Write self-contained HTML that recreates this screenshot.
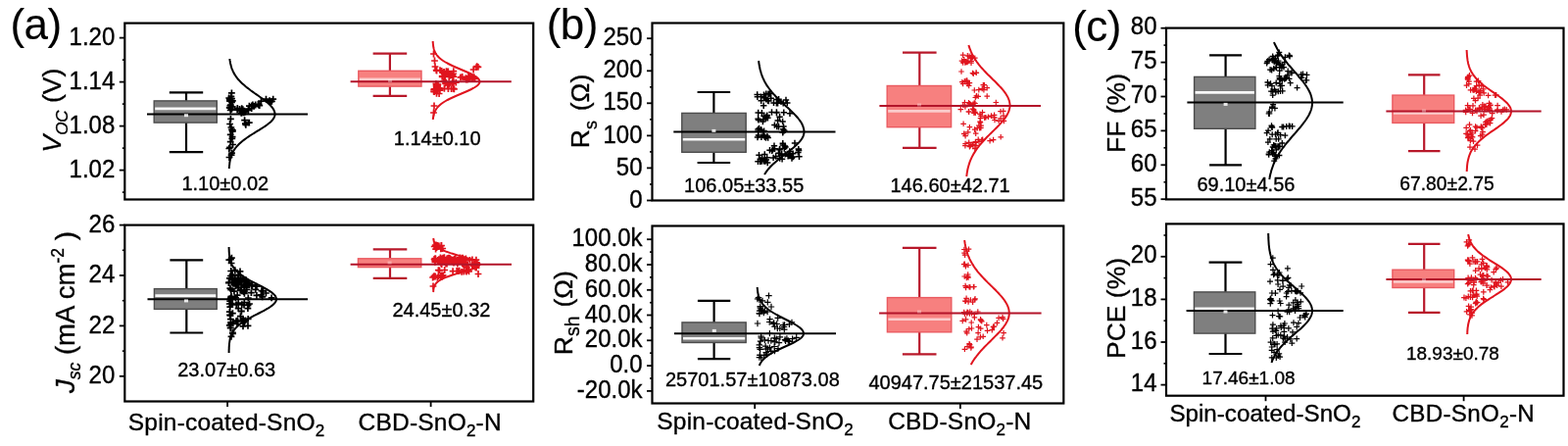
<!DOCTYPE html><html><head><meta charset="utf-8"><style>html,body{margin:0;padding:0;background:#fff;width:1600px;height:455px;overflow:hidden}svg{display:block}text{font-family:"Liberation Sans", Arial, sans-serif;fill:#000;stroke:#000;stroke-width:0.35px}.tl{font-size:24px}.st{font-size:20px}.xl{font-size:24.5px;letter-spacing:0.2px}.yt{font-size:26.5px}.pl{font-size:44px;letter-spacing:-0.6px;stroke-width:0.1px}</style></head><body>
<svg width="1600" height="455" viewBox="0 0 1600 455">
<rect width="1600" height="455" fill="#fff"/>
<line x1="190" y1="94.3" x2="190" y2="102.9" stroke="#000" stroke-width="2.2"/>
<line x1="190" y1="125.1" x2="190" y2="155.1" stroke="#000" stroke-width="2.2"/>
<line x1="172.8" y1="94.3" x2="207.2" y2="94.3" stroke="#000" stroke-width="2.2"/>
<line x1="172.8" y1="155.1" x2="207.2" y2="155.1" stroke="#000" stroke-width="2.2"/>
<rect x="157.2" y="102.9" width="64.1" height="22.2" fill="#7f7f7f" stroke="#4c4c4c" stroke-width="1.4"/>
<line x1="158.2" y1="110.9" x2="220.3" y2="110.9" stroke="#fff" stroke-width="2.6" opacity="0.95"/>
<path d="M233.1 104.4h6.8M236.5 101.0v6.8M231.8 112.4h6.8M235.2 109.0v6.8M233.4 141.5h6.8M236.8 138.1v6.8M233.0 94.9h6.8M236.4 91.5v6.8M230.4 151.5h6.8M233.8 148.1v6.8M231.2 150.3h6.8M234.6 146.9v6.8M230.6 160.5h6.8M234.0 157.1v6.8M233.9 134.2h6.8M237.3 130.8v6.8M231.5 107.8h6.8M234.9 104.4v6.8M231.6 110.1h6.8M235.0 106.7v6.8M230.8 109.8h6.8M234.2 106.4v6.8M231.2 126.5h6.8M234.6 123.1v6.8M232.7 158.1h6.8M236.1 154.7v6.8M233.8 108.8h6.8M237.2 105.4v6.8M231.1 103.2h6.8M234.5 99.8v6.8M234.1 147.5h6.8M237.5 144.1v6.8M233.1 156.1h6.8M236.5 152.7v6.8M233.7 139.6h6.8M237.1 136.2v6.8M232.5 130.0h6.8M235.9 126.6v6.8M233.0 111.3h6.8M236.4 107.9v6.8M232.0 107.1h6.8M235.4 103.7v6.8M231.8 144.7h6.8M235.2 141.3v6.8M233.2 132.2h6.8M236.6 128.8v6.8M232.0 121.4h6.8M235.4 118.0v6.8M232.5 98.3h6.8M235.9 94.9v6.8M231.8 137.4h6.8M235.2 134.0v6.8M234.0 132.8h6.8M237.4 129.4v6.8M233.6 133.5h6.8M237.0 130.1v6.8M261.4 107.7h6.8M264.8 104.3v6.8M255.7 108.4h6.8M259.1 105.0v6.8M275.3 101.1h6.8M278.7 97.7v6.8M274.0 103.3h6.8M277.4 99.9v6.8M271.7 102.6h6.8M275.1 99.2v6.8M253.3 110.6h6.8M256.7 107.2v6.8M260.0 106.3h6.8M263.4 102.9v6.8M257.3 107.0h6.8M260.7 103.6v6.8M260.8 107.4h6.8M264.2 104.0v6.8M254.5 106.9h6.8M257.9 103.5v6.8M245.5 114.8h6.8M248.9 111.4v6.8M272.6 104.0h6.8M276.0 100.6v6.8M250.0 112.5h6.8M253.4 109.1v6.8M238.7 112.2h6.8M242.1 108.8v6.8M268.1 101.2h6.8M271.5 97.8v6.8M263.1 103.2h6.8M266.5 99.8v6.8M244.4 111.6h6.8M247.8 108.2v6.8M250.1 111.1h6.8M253.5 107.7v6.8M251.0 108.1h6.8M254.4 104.7v6.8M253.4 107.9h6.8M256.8 104.5v6.8M244.2 114.2h6.8M247.6 110.8v6.8M246.9 114.0h6.8M250.3 110.6v6.8M246.2 122.6h6.8M249.6 119.2v6.8M247.0 126.1h6.8M250.4 122.7v6.8M247.1 126.0h6.8M250.5 122.6v6.8M250.2 125.2h6.8M253.6 121.8v6.8M247.4 127.4h6.8M250.8 124.0v6.8M250.9 125.1h6.8M254.3 121.7v6.8M231.0 101.7h6.8M234.4 98.3v6.8M231.7 101.4h6.8M235.1 98.0v6.8M231.4 101.7h6.8M234.8 98.3v6.8M230.3 100.0h6.8M233.7 96.6v6.8M234.0 102.9h6.8M237.4 99.5v6.8M231.3 102.8h6.8M234.7 99.4v6.8M231.3 103.2h6.8M234.7 99.8v6.8M233.1 100.6h6.8M236.5 97.2v6.8M238.9 110.5h6.8M242.3 107.1v6.8M243.3 110.7h6.8M246.7 107.3v6.8M242.8 115.3h6.8M246.2 111.9v6.8M241.1 111.4h6.8M244.5 108.0v6.8M243.2 115.4h6.8M246.6 112.0v6.8M242.0 113.0h6.8M245.4 109.6v6.8" stroke="#000" stroke-width="1.7" fill="none"/>
<path d="M234.4 60.0 L234.5 61.4 L234.8 62.8 L235.0 64.2 L235.3 65.6 L235.7 67.0 L236.1 68.4 L236.5 69.8 L237.1 71.2 L237.7 72.6 L238.4 74.0 L239.1 75.4 L240.0 76.8 L240.9 78.2 L242.0 79.6 L243.1 81.0 L244.4 82.4 L245.7 83.8 L247.2 85.2 L248.8 86.6 L250.4 88.0 L252.1 89.4 L254.0 90.8 L255.8 92.2 L257.8 93.6 L259.7 95.0 L261.7 96.4 L263.7 97.8 L265.7 99.2 L267.6 100.6 L269.5 102.0 L271.3 103.4 L273.0 104.8 L274.6 106.2 L276.0 107.6 L277.2 109.0 L278.3 110.4 L279.2 111.8 L279.8 113.2 L280.3 114.6 L280.5 116.0 L280.5 117.4 L280.1 118.8 L279.5 120.2 L278.6 121.6 L277.5 123.0 L276.1 124.4 L274.4 125.8 L272.6 127.2 L270.7 128.6 L268.6 130.0 L266.4 131.4 L264.1 132.8 L261.8 134.2 L259.6 135.6 L257.3 137.0 L255.1 138.4 L253.0 139.8 L251.0 141.2 L249.1 142.6 L247.3 144.0 L245.6 145.4 L244.1 146.8 L242.7 148.2 L241.4 149.6 L240.3 151.0 L239.3 152.4 L238.4 153.8 L237.6 155.2 L236.9 156.6 L236.4 158.0 L235.9 159.4 L235.4 160.8 L235.1 162.2 L234.8 163.6 L234.5 165.0 L234.3 166.4 L234.2 167.8 L234.0 169.2 L233.9 170.6 L233.8 172.0" stroke="#000" stroke-width="2" fill="none"/>
<line x1="150" y1="116.6" x2="314" y2="116.6" stroke="#000" stroke-width="2"/>
<rect x="188" y="116.2" width="4" height="3" fill="#fff" opacity="0.85"/>
<line x1="397.9" y1="54.6" x2="397.9" y2="72.3" stroke="#b8182a" stroke-width="2.2"/>
<line x1="397.9" y1="88.1" x2="397.9" y2="97.9" stroke="#b8182a" stroke-width="2.2"/>
<line x1="380.6" y1="54.6" x2="415.2" y2="54.6" stroke="#b8182a" stroke-width="2.2"/>
<line x1="380.6" y1="97.9" x2="415.2" y2="97.9" stroke="#b8182a" stroke-width="2.2"/>
<rect x="365.8" y="72.3" width="64.2" height="15.8" fill="#f7807f" stroke="#ea5a60" stroke-width="1.4"/>
<line x1="366.8" y1="80.8" x2="429.0" y2="80.8" stroke="#fff" stroke-width="2.6" opacity="0.6"/>
<path d="M439.1 55.0h6.8M442.5 51.6v6.8M440.1 62.0h6.8M443.5 58.6v6.8M440.6 68.0h6.8M444.0 64.6v6.8M439.1 115.0h6.8M442.5 111.6v6.8M439.6 108.0h6.8M443.0 104.6v6.8M459.3 78.1h6.8M462.7 74.7v6.8M442.2 72.1h6.8M445.6 68.7v6.8M457.0 76.7h6.8M460.4 73.3v6.8M453.8 73.7h6.8M457.2 70.3v6.8M452.6 75.7h6.8M456.0 72.3v6.8M452.1 72.6h6.8M455.5 69.2v6.8M449.3 74.3h6.8M452.7 70.9v6.8M454.8 78.5h6.8M458.2 75.1v6.8M459.1 75.3h6.8M462.5 71.9v6.8M449.6 73.4h6.8M453.0 70.0v6.8M441.8 71.7h6.8M445.2 68.3v6.8M449.9 73.7h6.8M453.3 70.3v6.8M448.3 77.7h6.8M451.7 74.3v6.8M451.1 75.4h6.8M454.5 72.0v6.8M445.6 71.7h6.8M449.0 68.3v6.8M447.3 72.5h6.8M450.7 69.1v6.8M450.8 78.5h6.8M454.2 75.1v6.8M453.9 72.8h6.8M457.3 69.4v6.8M458.1 77.1h6.8M461.5 73.7v6.8M455.1 77.8h6.8M458.5 74.4v6.8M455.6 77.0h6.8M459.0 73.6v6.8M447.8 78.4h6.8M451.2 75.0v6.8M459.4 72.6h6.8M462.8 69.2v6.8M455.4 76.5h6.8M458.8 73.1v6.8M449.9 75.2h6.8M453.3 71.8v6.8M450.4 78.0h6.8M453.8 74.6v6.8M450.6 77.3h6.8M454.0 73.9v6.8M447.8 77.7h6.8M451.2 74.3v6.8M480.1 79.3h6.8M483.5 75.9v6.8M473.5 81.2h6.8M476.9 77.8v6.8M476.6 79.4h6.8M480.0 76.0v6.8M466.5 78.8h6.8M469.9 75.4v6.8M476.1 78.2h6.8M479.5 74.8v6.8M480.3 78.6h6.8M483.7 75.2v6.8M480.3 78.7h6.8M483.7 75.3v6.8M481.2 80.3h6.8M484.6 76.9v6.8M472.2 79.6h6.8M475.6 76.2v6.8M475.1 79.9h6.8M478.5 76.5v6.8M468.3 78.3h6.8M471.7 74.9v6.8M472.3 81.2h6.8M475.7 77.8v6.8M474.6 77.8h6.8M478.0 74.4v6.8M478.5 80.4h6.8M481.9 77.0v6.8M484.5 68.3h6.8M487.9 64.9v6.8M483.3 67.7h6.8M486.7 64.3v6.8M482.7 68.6h6.8M486.1 65.2v6.8M479.7 71.0h6.8M483.1 67.6v6.8M443.3 88.2h6.8M446.7 84.8v6.8M459.0 85.2h6.8M462.4 81.8v6.8M445.5 92.2h6.8M448.9 88.8v6.8M450.0 90.4h6.8M453.4 87.0v6.8M441.8 86.5h6.8M445.2 83.1v6.8M444.7 89.9h6.8M448.1 86.5v6.8M442.8 93.0h6.8M446.2 89.6v6.8M441.6 90.5h6.8M445.0 87.1v6.8M441.5 85.3h6.8M444.9 81.9v6.8M458.2 84.2h6.8M461.6 80.8v6.8M445.0 90.1h6.8M448.4 86.7v6.8M449.2 83.0h6.8M452.6 79.6v6.8M461.9 84.2h6.8M465.3 80.8v6.8M441.9 86.3h6.8M445.3 82.9v6.8M454.0 90.7h6.8M457.4 87.3v6.8M443.5 86.2h6.8M446.9 82.8v6.8M441.7 87.4h6.8M445.1 84.0v6.8M457.2 90.6h6.8M460.6 87.2v6.8M460.0 90.8h6.8M463.4 87.4v6.8M459.2 90.3h6.8M462.6 86.9v6.8M451.0 85.0h6.8M454.4 81.6v6.8M455.0 86.0h6.8M458.4 82.6v6.8M443.2 87.4h6.8M446.6 84.0v6.8M459.5 83.9h6.8M462.9 80.5v6.8M453.4 86.8h6.8M456.8 83.4v6.8M451.9 84.1h6.8M455.3 80.7v6.8M444.9 91.8h6.8M448.3 88.4v6.8M442.7 92.6h6.8M446.1 89.2v6.8M439.2 93.3h6.8M442.6 89.9v6.8M439.9 90.8h6.8M443.3 87.4v6.8M439.3 91.3h6.8M442.7 87.9v6.8M439.7 93.7h6.8M443.1 90.3v6.8M442.1 95.4h6.8M445.5 92.0v6.8M444.7 95.5h6.8M448.1 92.1v6.8" stroke="#e0141e" stroke-width="1.7" fill="none"/>
<path d="M441.7 42.0 L441.7 43.0 L441.8 44.0 L441.9 45.0 L442.0 46.0 L442.1 47.0 L442.3 48.0 L442.5 49.0 L442.7 50.0 L443.0 51.0 L443.4 52.0 L443.8 53.0 L444.3 54.0 L444.9 55.0 L445.6 56.0 L446.4 57.0 L447.3 58.0 L448.3 59.0 L449.5 60.0 L450.8 61.0 L452.2 62.0 L453.8 63.0 L455.5 64.0 L457.4 65.0 L459.4 66.0 L461.4 67.0 L463.6 68.0 L465.9 69.0 L468.3 70.0 L470.6 71.0 L473.0 72.0 L475.3 73.0 L477.6 74.0 L479.7 75.0 L481.7 76.0 L483.6 77.0 L485.2 78.0 L486.7 79.0 L487.8 80.0 L488.7 81.0 L489.2 82.0 L489.5 83.0 L489.4 84.0 L489.0 85.0 L488.4 86.0 L487.4 87.0 L486.1 88.0 L484.6 89.0 L482.9 90.0 L481.0 91.0 L478.9 92.0 L476.7 93.0 L474.4 94.0 L472.0 95.0 L469.7 96.0 L467.3 97.0 L465.0 98.0 L462.8 99.0 L460.6 100.0 L458.5 101.0 L456.6 102.0 L454.8 103.0 L453.1 104.0 L451.6 105.0 L450.2 106.0 L449.0 107.0 L447.9 108.0 L446.9 109.0 L446.1 110.0 L445.3 111.0 L444.7 112.0 L444.1 113.0 L443.6 114.0 L443.2 115.0 L442.9 116.0 L442.6 117.0 L442.4 118.0 L442.2 119.0 L442.1 120.0 L441.9 121.0 L441.8 122.0" stroke="#e0141e" stroke-width="2" fill="none"/>
<line x1="357.6" y1="83.3" x2="521.8" y2="83.3" stroke="#b3142a" stroke-width="2"/>
<rect x="396" y="81.0" width="4" height="3" fill="#fff" opacity="0.35"/>
<line x1="190.3" y1="265.3" x2="190.3" y2="294.6" stroke="#000" stroke-width="2.2"/>
<line x1="190.3" y1="315.4" x2="190.3" y2="339.5" stroke="#000" stroke-width="2.2"/>
<line x1="173.4" y1="265.3" x2="207.2" y2="265.3" stroke="#000" stroke-width="2.2"/>
<line x1="173.4" y1="339.5" x2="207.2" y2="339.5" stroke="#000" stroke-width="2.2"/>
<rect x="157.4" y="294.6" width="63.8" height="20.8" fill="#7f7f7f" stroke="#4c4c4c" stroke-width="1.4"/>
<line x1="158.4" y1="301.6" x2="220.2" y2="301.6" stroke="#fff" stroke-width="2.6" opacity="0.95"/>
<path d="M232.0 281.5h6.8M235.4 278.1v6.8M232.7 309.6h6.8M236.1 306.2v6.8M233.0 263.1h6.8M236.4 259.7v6.8M233.8 281.6h6.8M237.2 278.2v6.8M232.3 330.5h6.8M235.7 327.1v6.8M232.3 276.5h6.8M235.7 273.1v6.8M233.1 305.5h6.8M236.5 302.1v6.8M232.7 268.5h6.8M236.1 265.1v6.8M230.0 288.6h6.8M233.4 285.2v6.8M232.9 302.3h6.8M236.3 298.9v6.8M234.0 319.7h6.8M237.4 316.3v6.8M232.2 328.8h6.8M235.6 325.4v6.8M230.9 331.9h6.8M234.3 328.5v6.8M233.7 280.1h6.8M237.1 276.7v6.8M231.4 313.2h6.8M234.8 309.8v6.8M231.4 294.2h6.8M234.8 290.8v6.8M233.8 310.5h6.8M237.2 307.1v6.8M234.0 339.3h6.8M237.4 335.9v6.8M230.9 318.1h6.8M234.3 314.7v6.8M234.2 340.4h6.8M237.6 337.0v6.8M231.2 321.4h6.8M234.6 318.0v6.8M231.3 307.1h6.8M234.7 303.7v6.8M234.4 329.7h6.8M237.8 326.3v6.8M232.0 325.7h6.8M235.4 322.3v6.8M233.0 288.0h6.8M236.4 284.6v6.8M232.1 264.7h6.8M235.5 261.3v6.8M231.6 322.0h6.8M235.0 318.6v6.8M232.6 343.4h6.8M236.0 340.0v6.8M230.2 288.2h6.8M233.6 284.8v6.8M230.4 265.1h6.8M233.8 261.7v6.8M230.8 310.0h6.8M234.2 306.6v6.8M231.7 334.3h6.8M235.1 330.9v6.8M232.0 334.6h6.8M235.4 331.2v6.8M232.7 305.0h6.8M236.1 301.6v6.8M232.6 309.5h6.8M236.0 306.1v6.8M231.8 304.4h6.8M235.2 301.0v6.8M231.0 283.9h6.8M234.4 280.5v6.8M232.3 302.7h6.8M235.7 299.3v6.8M232.3 295.6h6.8M235.7 292.2v6.8M258.5 301.3h6.8M261.9 297.9v6.8M245.2 297.6h6.8M248.6 294.2v6.8M263.0 300.9h6.8M266.4 297.5v6.8M242.4 285.2h6.8M245.8 281.8v6.8M242.9 293.1h6.8M246.3 289.7v6.8M248.1 291.4h6.8M251.5 288.0v6.8M253.3 291.5h6.8M256.7 288.1v6.8M257.4 295.4h6.8M260.8 292.0v6.8M249.3 288.5h6.8M252.7 285.1v6.8M240.6 287.7h6.8M244.0 284.3v6.8M235.5 297.2h6.8M238.9 293.8v6.8M253.6 290.7h6.8M257.0 287.3v6.8M238.8 301.1h6.8M242.2 297.7v6.8M265.0 297.0h6.8M268.4 293.6v6.8M234.3 288.5h6.8M237.7 285.1v6.8M241.8 296.3h6.8M245.2 292.9v6.8M237.9 286.4h6.8M241.3 283.0v6.8M251.2 289.8h6.8M254.6 286.4v6.8M242.8 290.9h6.8M246.2 287.5v6.8M258.6 292.2h6.8M262.0 288.8v6.8M244.8 284.1h6.8M248.2 280.7v6.8M273.7 303.8h6.8M277.1 300.4v6.8M239.1 284.4h6.8M242.5 281.0v6.8M237.7 290.8h6.8M241.1 287.4v6.8M241.9 295.8h6.8M245.3 292.4v6.8M257.9 292.2h6.8M261.3 288.8v6.8M264.3 302.8h6.8M267.7 299.4v6.8M248.2 290.0h6.8M251.6 286.6v6.8M249.9 304.0h6.8M253.3 300.6v6.8M239.7 293.7h6.8M243.1 290.3v6.8M248.4 295.4h6.8M251.8 292.0v6.8M253.0 298.7h6.8M256.4 295.3v6.8M254.0 291.1h6.8M257.4 287.7v6.8M263.6 296.6h6.8M267.0 293.2v6.8M238.0 289.4h6.8M241.4 286.0v6.8M249.0 288.7h6.8M252.4 285.3v6.8M233.6 285.1h6.8M237.0 281.7v6.8M247.4 285.4h6.8M250.8 282.0v6.8M246.0 299.4h6.8M249.4 296.0v6.8M237.1 291.8h6.8M240.5 288.4v6.8M241.7 286.5h6.8M245.1 283.1v6.8M246.0 297.1h6.8M249.4 293.7v6.8M239.2 287.6h6.8M242.6 284.2v6.8M250.7 289.4h6.8M254.1 286.0v6.8M244.7 290.7h6.8M248.1 287.3v6.8M248.3 293.2h6.8M251.7 289.8v6.8M268.0 299.0h6.8M271.4 295.6v6.8M237.1 303.8h6.8M240.5 300.4v6.8M247.1 287.1h6.8M250.5 283.7v6.8M247.1 326.8h6.8M250.5 323.4v6.8M245.6 311.1h6.8M249.0 307.7v6.8M245.9 308.6h6.8M249.3 305.2v6.8M239.3 327.9h6.8M242.7 324.5v6.8M237.8 310.8h6.8M241.2 307.4v6.8M238.6 330.5h6.8M242.0 327.1v6.8M239.8 309.1h6.8M243.2 305.7v6.8M249.7 311.5h6.8M253.1 308.1v6.8M249.8 325.3h6.8M253.2 321.9v6.8M249.6 332.3h6.8M253.0 328.9v6.8M245.8 328.5h6.8M249.2 325.1v6.8M237.6 327.7h6.8M241.0 324.3v6.8M244.8 326.4h6.8M248.2 323.0v6.8M238.7 327.2h6.8M242.1 323.8v6.8M251.1 310.0h6.8M254.5 306.6v6.8M242.0 322.6h6.8M245.4 319.2v6.8M249.5 314.6h6.8M252.9 311.2v6.8M239.8 314.7h6.8M243.2 311.3v6.8M246.3 327.3h6.8M249.7 323.9v6.8M243.0 317.7h6.8M246.4 314.3v6.8M243.0 317.3h6.8M246.4 313.9v6.8M243.4 310.6h6.8M246.8 307.2v6.8M244.6 332.8h6.8M248.0 329.4v6.8M243.3 327.2h6.8M246.7 323.8v6.8M236.5 283.5h6.8M239.9 280.1v6.8M241.9 283.3h6.8M245.3 279.9v6.8M239.8 280.8h6.8M243.2 277.4v6.8M240.9 286.2h6.8M244.3 282.8v6.8M236.4 275.7h6.8M239.8 272.3v6.8M241.8 286.4h6.8M245.2 283.0v6.8M239.8 280.3h6.8M243.2 276.9v6.8M241.6 276.9h6.8M245.0 273.5v6.8" stroke="#000" stroke-width="1.7" fill="none"/>
<path d="M233.6 252.0 L233.6 253.3 L233.7 254.7 L233.7 256.1 L233.8 257.4 L233.9 258.8 L234.0 260.1 L234.2 261.4 L234.4 262.8 L234.6 264.1 L235.0 265.5 L235.3 266.9 L235.8 268.2 L236.4 269.6 L237.1 270.9 L237.8 272.2 L238.8 273.6 L239.8 274.9 L241.1 276.3 L242.5 277.6 L244.1 279.0 L245.8 280.4 L247.7 281.7 L249.8 283.1 L252.0 284.4 L254.4 285.8 L256.9 287.1 L259.5 288.4 L262.1 289.8 L264.8 291.1 L267.4 292.5 L269.9 293.9 L272.3 295.2 L274.6 296.6 L276.6 297.9 L278.3 299.2 L279.8 300.6 L280.9 301.9 L281.6 303.3 L282.0 304.6 L281.9 306.0 L281.5 307.4 L280.7 308.7 L279.5 310.1 L278.0 311.4 L276.2 312.8 L274.2 314.1 L271.9 315.4 L269.5 316.8 L266.9 318.1 L264.3 319.5 L261.6 320.9 L259.0 322.2 L256.4 323.6 L254.0 324.9 L251.6 326.2 L249.4 327.6 L247.3 328.9 L245.5 330.3 L243.7 331.6 L242.2 333.0 L240.8 334.4 L239.6 335.7 L238.6 337.1 L237.7 338.4 L236.9 339.8 L236.3 341.1 L235.7 342.4 L235.3 343.8 L234.9 345.1 L234.6 346.5 L234.4 347.9 L234.2 349.2 L234.0 350.6 L233.9 351.9 L233.8 353.2 L233.7 354.6 L233.7 355.9 L233.6 357.3 L233.6 358.6 L233.6 360.0" stroke="#000" stroke-width="2" fill="none"/>
<line x1="150.5" y1="305.2" x2="314" y2="305.2" stroke="#000" stroke-width="2"/>
<rect x="188" y="305.4" width="4" height="3" fill="#fff" opacity="0.85"/>
<line x1="398" y1="254.3" x2="398" y2="263.8" stroke="#b8182a" stroke-width="2.2"/>
<line x1="398" y1="272.6" x2="398" y2="283.8" stroke="#b8182a" stroke-width="2.2"/>
<line x1="380.7" y1="254.3" x2="415.3" y2="254.3" stroke="#b8182a" stroke-width="2.2"/>
<line x1="380.7" y1="283.8" x2="415.3" y2="283.8" stroke="#b8182a" stroke-width="2.2"/>
<rect x="365.4" y="263.8" width="64.4" height="8.8" fill="#f7807f" stroke="#ea5a60" stroke-width="1.4"/>
<path d="M441.5 250.0h6.8M444.9 246.6v6.8M443.1 250.3h6.8M446.5 246.9v6.8M439.8 251.5h6.8M443.2 248.1v6.8M448.3 253.5h6.8M451.7 250.1v6.8M446.8 250.6h6.8M450.2 247.2v6.8M444.5 250.9h6.8M447.9 247.5v6.8M440.8 250.0h6.8M444.2 246.6v6.8M441.2 254.1h6.8M444.6 250.7v6.8M447.4 253.5h6.8M450.8 250.1v6.8M447.1 250.5h6.8M450.5 247.1v6.8M442.2 252.6h6.8M445.6 249.2v6.8M446.4 253.8h6.8M449.8 250.4v6.8M468.1 263.1h6.8M471.5 259.7v6.8M459.1 267.2h6.8M462.5 263.8v6.8M455.8 263.7h6.8M459.2 260.3v6.8M454.7 263.1h6.8M458.1 259.7v6.8M469.9 268.6h6.8M473.3 265.2v6.8M457.2 264.6h6.8M460.6 261.2v6.8M469.1 266.5h6.8M472.5 263.1v6.8M468.2 268.4h6.8M471.6 265.0v6.8M455.9 265.4h6.8M459.3 262.0v6.8M458.9 265.5h6.8M462.3 262.1v6.8M444.4 264.6h6.8M447.8 261.2v6.8M465.9 262.8h6.8M469.3 259.4v6.8M440.6 266.9h6.8M444.0 263.5v6.8M448.4 266.2h6.8M451.8 262.8v6.8M454.7 264.9h6.8M458.1 261.5v6.8M472.0 263.9h6.8M475.4 260.5v6.8M452.7 263.9h6.8M456.1 260.5v6.8M460.0 264.4h6.8M463.4 261.0v6.8M450.8 267.7h6.8M454.2 264.3v6.8M449.7 266.4h6.8M453.1 263.0v6.8M468.9 263.2h6.8M472.3 259.8v6.8M441.1 264.1h6.8M444.5 260.7v6.8M464.4 266.8h6.8M467.8 263.4v6.8M446.9 264.8h6.8M450.3 261.4v6.8M445.0 265.7h6.8M448.4 262.3v6.8M440.5 267.4h6.8M443.9 264.0v6.8M468.7 269.2h6.8M472.1 265.8v6.8M463.4 269.2h6.8M466.8 265.8v6.8M439.7 264.5h6.8M443.1 261.1v6.8M471.0 267.9h6.8M474.4 264.5v6.8M452.6 269.1h6.8M456.0 265.7v6.8M459.6 268.2h6.8M463.0 264.8v6.8M448.8 263.8h6.8M452.2 260.4v6.8M453.8 263.5h6.8M457.2 260.1v6.8M451.7 269.2h6.8M455.1 265.8v6.8M450.0 262.6h6.8M453.4 259.2v6.8M440.6 263.7h6.8M444.0 260.3v6.8M465.0 265.0h6.8M468.4 261.6v6.8M448.7 263.2h6.8M452.1 259.8v6.8M471.5 265.5h6.8M474.9 262.1v6.8M446.0 262.9h6.8M449.4 259.5v6.8M440.9 263.7h6.8M444.3 260.3v6.8M461.4 263.5h6.8M464.8 260.1v6.8M440.4 265.9h6.8M443.8 262.5v6.8M447.3 269.5h6.8M450.7 266.1v6.8M443.1 266.2h6.8M446.5 262.8v6.8M464.6 265.4h6.8M468.0 262.0v6.8M471.7 265.8h6.8M475.1 262.4v6.8M447.1 265.4h6.8M450.5 262.0v6.8M440.3 265.4h6.8M443.7 262.0v6.8M447.3 268.7h6.8M450.7 265.3v6.8M466.5 266.0h6.8M469.9 262.6v6.8M440.1 264.3h6.8M443.5 260.9v6.8M447.1 264.0h6.8M450.5 260.6v6.8M446.7 268.6h6.8M450.1 265.2v6.8M471.1 265.0h6.8M474.5 261.6v6.8M482.1 269.6h6.8M485.5 266.2v6.8M483.0 268.1h6.8M486.4 264.7v6.8M481.7 270.4h6.8M485.1 267.0v6.8M480.2 271.2h6.8M483.6 267.8v6.8M476.0 265.3h6.8M479.4 261.9v6.8M472.1 272.4h6.8M475.5 269.0v6.8M481.7 272.8h6.8M485.1 269.4v6.8M473.8 270.4h6.8M477.2 267.0v6.8M480.3 270.3h6.8M483.7 266.9v6.8M480.5 269.3h6.8M483.9 265.9v6.8M478.3 270.7h6.8M481.7 267.3v6.8M472.9 272.8h6.8M476.3 269.4v6.8M482.5 265.2h6.8M485.9 261.8v6.8M482.7 273.2h6.8M486.1 269.8v6.8M478.5 264.9h6.8M481.9 261.5v6.8M472.8 275.8h6.8M476.2 272.4v6.8M475.1 276.8h6.8M478.5 273.4v6.8M445.1 275.8h6.8M448.5 272.4v6.8M464.1 276.6h6.8M467.5 273.2v6.8M467.7 277.4h6.8M471.1 274.0v6.8M450.3 275.5h6.8M453.7 272.1v6.8M473.5 275.5h6.8M476.9 272.1v6.8M472.0 275.7h6.8M475.4 272.3v6.8M469.8 277.1h6.8M473.2 273.7v6.8M472.1 276.6h6.8M475.5 273.2v6.8M472.1 275.9h6.8M475.5 272.5v6.8M465.3 276.2h6.8M468.7 272.8v6.8M472.5 277.0h6.8M475.9 273.6v6.8M458.7 276.6h6.8M462.1 273.2v6.8M444.0 275.6h6.8M447.4 272.2v6.8M462.7 276.5h6.8M466.1 273.1v6.8M447.6 282.3h6.8M451.0 278.9v6.8M439.6 281.6h6.8M443.0 278.2v6.8M446.5 282.1h6.8M449.9 278.7v6.8M438.2 283.0h6.8M441.6 279.6v6.8M447.2 280.8h6.8M450.6 277.4v6.8M444.1 281.6h6.8M447.5 278.2v6.8M446.8 281.4h6.8M450.2 278.0v6.8M440.7 282.0h6.8M444.1 278.6v6.8M448.7 280.8h6.8M452.1 277.4v6.8M439.4 282.4h6.8M442.8 279.0v6.8M447.8 282.0h6.8M451.2 278.6v6.8M442.9 283.1h6.8M446.3 279.7v6.8M484.6 279.5h6.8M488.0 276.1v6.8M438.6 292.0h6.8M442.0 288.6v6.8" stroke="#e0141e" stroke-width="1.7" fill="none"/>
<path d="M442.2 243.0 L442.3 243.7 L442.4 244.4 L442.5 245.1 L442.7 245.8 L442.8 246.4 L443.1 247.1 L443.3 247.8 L443.7 248.5 L444.1 249.2 L444.6 249.9 L445.1 250.6 L445.8 251.2 L446.5 251.9 L447.4 252.6 L448.4 253.3 L449.6 254.0 L450.9 254.7 L452.3 255.4 L453.9 256.1 L455.6 256.8 L457.5 257.4 L459.5 258.1 L461.7 258.8 L463.9 259.5 L466.2 260.2 L468.6 260.9 L471.0 261.6 L473.4 262.2 L475.8 262.9 L478.1 263.6 L480.3 264.3 L482.3 265.0 L484.1 265.7 L485.8 266.4 L487.1 267.1 L488.2 267.8 L488.9 268.4 L489.4 269.1 L489.5 269.8 L489.3 270.5 L488.7 271.2 L487.9 271.9 L486.7 272.6 L485.3 273.2 L483.6 273.9 L481.7 274.6 L479.6 275.3 L477.4 276.0 L475.0 276.7 L472.7 277.4 L470.2 278.1 L467.8 278.8 L465.5 279.4 L463.2 280.1 L461.0 280.8 L458.9 281.5 L456.9 282.2 L455.1 282.9 L453.4 283.6 L451.8 284.2 L450.5 284.9 L449.2 285.6 L448.1 286.3 L447.1 287.0 L446.3 287.7 L445.6 288.4 L444.9 289.1 L444.4 289.8 L443.9 290.4 L443.6 291.1 L443.3 291.8 L443.0 292.5 L442.8 293.2 L442.6 293.9 L442.5 294.6 L442.4 295.2 L442.3 295.9 L442.2 296.6 L442.2 297.3 L442.1 298.0" stroke="#e0141e" stroke-width="2" fill="none"/>
<line x1="357.6" y1="269.7" x2="522" y2="269.7" stroke="#b3142a" stroke-width="2"/>
<rect x="395.6" y="266.5" width="4" height="3" fill="#fff" opacity="0.35"/>
<line x1="728.4" y1="94.0" x2="728.4" y2="115.4" stroke="#000" stroke-width="2.2"/>
<line x1="728.4" y1="155.3" x2="728.4" y2="166.0" stroke="#000" stroke-width="2.2"/>
<line x1="711.6" y1="94.0" x2="745.2" y2="94.0" stroke="#000" stroke-width="2.2"/>
<line x1="711.6" y1="166.0" x2="745.2" y2="166.0" stroke="#000" stroke-width="2.2"/>
<rect x="695.8" y="115.4" width="65.4" height="39.9" fill="#7f7f7f" stroke="#4c4c4c" stroke-width="1.4"/>
<line x1="696.8" y1="142.3" x2="760.2" y2="142.3" stroke="#fff" stroke-width="2.6" opacity="0.95"/>
<path d="M778.6 101.2h6.4M781.8 98.0v6.4M781.2 103.0h6.4M784.4 99.8v6.4M780.4 102.8h6.4M783.6 99.6v6.4M769.7 98.7h6.4M772.9 95.5v6.4M783.5 100.3h6.4M786.7 97.1v6.4M782.8 95.5h6.4M786.0 92.3v6.4M776.3 96.7h6.4M779.5 93.5v6.4M777.5 99.7h6.4M780.7 96.5v6.4M769.5 96.5h6.4M772.7 93.3v6.4M773.5 102.7h6.4M776.7 99.5v6.4M780.8 95.9h6.4M784.0 92.7v6.4M781.3 95.7h6.4M784.5 92.5v6.4M778.6 95.6h6.4M781.8 92.4v6.4M786.3 104.9h6.4M789.5 101.7v6.4M789.2 101.6h6.4M792.4 98.4v6.4M800.1 104.9h6.4M803.3 101.7v6.4M790.4 105.3h6.4M793.6 102.1v6.4M793.8 103.9h6.4M797.0 100.7v6.4M789.2 105.2h6.4M792.4 102.0v6.4M796.0 105.3h6.4M799.2 102.1v6.4M798.8 102.0h6.4M802.0 98.8v6.4M791.4 101.3h6.4M794.6 98.1v6.4M774.2 115.2h6.4M777.4 112.0v6.4M778.4 120.5h6.4M781.6 117.3v6.4M770.4 121.3h6.4M773.6 118.1v6.4M779.4 117.6h6.4M782.6 114.4v6.4M792.4 119.3h6.4M795.6 116.1v6.4M778.8 119.3h6.4M782.0 116.1v6.4M789.3 115.1h6.4M792.5 111.9v6.4M796.6 114.7h6.4M799.8 111.5v6.4M790.5 122.9h6.4M793.7 119.7v6.4M770.8 122.4h6.4M774.0 119.2v6.4M780.2 120.3h6.4M783.4 117.1v6.4M770.5 115.0h6.4M773.7 111.8v6.4M775.2 124.1h6.4M778.4 120.9v6.4M775.6 122.1h6.4M778.8 118.9v6.4M795.4 123.9h6.4M798.6 120.7v6.4M779.6 118.0h6.4M782.8 114.8v6.4M776.1 138.3h6.4M779.3 135.1v6.4M770.7 138.0h6.4M773.9 134.8v6.4M779.7 139.1h6.4M782.9 135.9v6.4M769.8 140.0h6.4M773.0 136.8v6.4M770.5 133.9h6.4M773.7 130.7v6.4M777.2 139.7h6.4M780.4 136.5v6.4M773.7 139.7h6.4M776.9 136.5v6.4M776.4 133.6h6.4M779.6 130.4v6.4M773.4 132.3h6.4M776.6 129.1v6.4M770.3 132.0h6.4M773.5 128.8v6.4M778.3 140.5h6.4M781.5 137.3v6.4M771.4 131.0h6.4M774.6 127.8v6.4M811.9 153.6h6.4M815.1 150.4v6.4M795.7 148.0h6.4M798.9 144.8v6.4M800.9 159.2h6.4M804.1 156.0v6.4M797.1 151.5h6.4M800.3 148.3v6.4M785.9 160.9h6.4M789.1 157.7v6.4M785.2 152.9h6.4M788.4 149.7v6.4M807.8 146.0h6.4M811.0 142.8v6.4M804.8 161.5h6.4M808.0 158.3v6.4M802.0 158.5h6.4M805.2 155.3v6.4M787.3 151.8h6.4M790.5 148.6v6.4M788.5 159.5h6.4M791.7 156.3v6.4M792.6 152.1h6.4M795.8 148.9v6.4M812.3 159.7h6.4M815.5 156.5v6.4M811.6 152.1h6.4M814.8 148.9v6.4M798.0 157.4h6.4M801.2 154.2v6.4M797.7 149.0h6.4M800.9 145.8v6.4M795.6 146.3h6.4M798.8 143.1v6.4M794.9 162.3h6.4M798.1 159.1v6.4M811.2 155.4h6.4M814.4 152.2v6.4M798.3 149.9h6.4M801.5 146.7v6.4M786.8 148.7h6.4M790.0 145.5v6.4M806.2 160.0h6.4M809.4 156.8v6.4M794.4 158.4h6.4M797.6 155.2v6.4M806.0 156.7h6.4M809.2 153.5v6.4M802.9 157.9h6.4M806.1 154.7v6.4M794.5 156.9h6.4M797.7 153.7v6.4M792.2 152.7h6.4M795.4 149.5v6.4M805.9 156.6h6.4M809.1 153.4v6.4M792.5 161.5h6.4M795.7 158.3v6.4M802.5 154.5h6.4M805.7 151.3v6.4M784.6 153.9h6.4M787.8 150.7v6.4M791.3 156.3h6.4M794.5 153.1v6.4M773.9 164.5h6.4M777.1 161.3v6.4M776.1 164.3h6.4M779.3 161.1v6.4M772.5 162.6h6.4M775.7 159.4v6.4M777.2 164.6h6.4M780.4 161.4v6.4M772.5 164.8h6.4M775.7 161.6v6.4M778.7 163.1h6.4M781.9 159.9v6.4M780.0 166.0h6.4M783.2 162.8v6.4M774.5 161.3h6.4M777.7 158.1v6.4M770.3 164.7h6.4M773.5 161.5v6.4M779.5 160.7h6.4M782.7 157.5v6.4M776.6 163.4h6.4M779.8 160.2v6.4M777.1 157.4h6.4M780.3 154.2v6.4M797.1 133.3h6.4M800.3 130.1v6.4M796.0 131.7h6.4M799.2 128.5v6.4M795.5 135.2h6.4M798.7 132.0v6.4M795.7 134.7h6.4M798.9 131.5v6.4M789.6 129.1h6.4M792.8 125.9v6.4M780.5 140.5h6.4M783.7 137.3v6.4M791.4 129.3h6.4M794.6 126.1v6.4M773.3 98.8h6.4M776.5 95.6v6.4M776.0 107.7h6.4M779.2 104.5v6.4M787.2 127.6h6.4M790.4 124.4v6.4M796.3 128.9h6.4M799.5 125.7v6.4M771.3 158.2h6.4M774.5 155.0v6.4M784.3 114.5h6.4M787.5 111.3v6.4M782.3 153.2h6.4M785.5 150.0v6.4M775.4 137.9h6.4M778.6 134.7v6.4M802.8 115.8h6.4M806.0 112.6v6.4M777.7 164.5h6.4M780.9 161.3v6.4M776.3 118.5h6.4M779.5 115.3v6.4M789.2 114.5h6.4M792.4 111.3v6.4" stroke="#000" stroke-width="1.5" fill="none"/>
<path d="M774.1 62.0 L774.3 63.5 L774.5 64.9 L774.7 66.3 L775.0 67.8 L775.3 69.2 L775.6 70.7 L776.0 72.2 L776.4 73.6 L776.8 75.0 L777.3 76.5 L777.8 78.0 L778.4 79.4 L779.1 80.8 L779.8 82.3 L780.5 83.8 L781.4 85.2 L782.2 86.7 L783.2 88.1 L784.2 89.5 L785.3 91.0 L786.4 92.5 L787.6 93.9 L788.9 95.3 L790.2 96.8 L791.5 98.2 L793.0 99.7 L794.4 101.2 L795.9 102.6 L797.4 104.0 L799.0 105.5 L800.6 107.0 L802.1 108.4 L803.7 109.8 L805.3 111.3 L806.8 112.8 L808.3 114.2 L809.8 115.7 L811.2 117.1 L812.5 118.5 L813.8 120.0 L815.0 121.5 L816.1 122.9 L817.1 124.3 L818.0 125.8 L818.7 127.2 L819.3 128.7 L819.8 130.2 L820.2 131.6 L820.4 133.1 L820.5 134.5 L820.4 135.9 L820.1 137.4 L819.6 138.8 L819.0 140.3 L818.1 141.8 L817.1 143.2 L815.9 144.7 L814.5 146.1 L813.1 147.6 L811.5 149.0 L809.8 150.4 L808.1 151.9 L806.3 153.3 L804.4 154.8 L802.5 156.2 L800.6 157.7 L798.8 159.2 L796.9 160.6 L795.1 162.1 L793.4 163.5 L791.7 164.9 L790.0 166.4 L788.5 167.8 L787.0 169.3 L785.6 170.8 L784.3 172.2 L783.1 173.7 L782.0 175.1 L781.0 176.6 L780.0 178.0" stroke="#000" stroke-width="2" fill="none"/>
<line x1="687.3" y1="134.6" x2="852.5" y2="134.6" stroke="#000" stroke-width="2"/>
<rect x="726.4" y="131.9" width="4" height="3" fill="#fff" opacity="0.85"/>
<line x1="938.3" y1="53.7" x2="938.3" y2="87.5" stroke="#b8182a" stroke-width="2.2"/>
<line x1="938.3" y1="129.7" x2="938.3" y2="150.8" stroke="#b8182a" stroke-width="2.2"/>
<line x1="921.0" y1="53.7" x2="955.6" y2="53.7" stroke="#b8182a" stroke-width="2.2"/>
<line x1="921.0" y1="150.8" x2="955.6" y2="150.8" stroke="#b8182a" stroke-width="2.2"/>
<rect x="905.2" y="87.5" width="65.4" height="42.2" fill="#f7807f" stroke="#ea5a60" stroke-width="1.4"/>
<line x1="906.2" y1="113.4" x2="969.6" y2="113.4" stroke="#fff" stroke-width="2.6" opacity="0.6"/>
<path d="M988.2 64.2h5.6M991.0 61.4v5.6M984.5 56.9h5.6M987.3 54.1v5.6M978.7 62.1h5.6M981.5 59.3v5.6M984.3 63.4h5.6M987.1 60.6v5.6M983.2 63.5h5.6M986.0 60.7v5.6M982.0 63.9h5.6M984.8 61.1v5.6M987.5 58.9h5.6M990.3 56.1v5.6M985.2 62.4h5.6M988.0 59.6v5.6M981.0 60.7h5.6M983.8 57.9v5.6M988.4 57.0h5.6M991.2 54.2v5.6M988.3 62.4h5.6M991.1 59.6v5.6M988.8 57.9h5.6M991.6 55.1v5.6M979.8 63.9h5.6M982.6 61.1v5.6M988.4 59.3h5.6M991.2 56.5v5.6M979.8 56.1h5.6M982.6 53.3v5.6M986.3 57.3h5.6M989.1 54.5v5.6M978.2 73.0h5.6M981.0 70.2v5.6M993.5 74.3h5.6M996.3 71.5v5.6M989.7 74.5h5.6M992.5 71.7v5.6M990.5 75.3h5.6M993.3 72.5v5.6M993.2 74.0h5.6M996.0 71.2v5.6M984.5 85.7h5.6M987.3 82.9v5.6M985.9 87.4h5.6M988.7 84.6v5.6M979.0 83.7h5.6M981.8 80.9v5.6M984.1 83.3h5.6M986.9 80.5v5.6M984.0 82.0h5.6M986.8 79.2v5.6M986.6 84.7h5.6M989.4 81.9v5.6M979.8 85.5h5.6M982.6 82.7v5.6M981.5 82.7h5.6M984.3 79.9v5.6M983.1 82.3h5.6M985.9 79.5v5.6M993.6 97.8h5.6M996.4 95.0v5.6M1000.5 86.7h5.6M1003.3 83.9v5.6M1001.6 86.7h5.6M1004.4 83.9v5.6M995.4 98.3h5.6M998.2 95.5v5.6M999.4 90.5h5.6M1002.2 87.7v5.6M996.0 91.6h5.6M998.8 88.8v5.6M992.5 99.5h5.6M995.3 96.7v5.6M991.5 92.0h5.6M994.3 89.2v5.6M1001.1 91.7h5.6M1003.9 88.9v5.6M1004.4 89.7h5.6M1007.2 86.9v5.6M1004.4 98.1h5.6M1007.2 95.3v5.6M990.1 106.3h5.6M992.9 103.5v5.6M986.3 106.2h5.6M989.1 103.4v5.6M992.2 105.5h5.6M995.0 102.7v5.6M986.7 105.9h5.6M989.5 103.1v5.6M985.7 104.7h5.6M988.5 101.9v5.6M991.4 105.0h5.6M994.2 102.2v5.6M987.0 106.1h5.6M989.8 103.3v5.6M981.6 104.5h5.6M984.4 101.7v5.6M982.1 108.9h5.6M984.9 106.1v5.6M985.9 114.2h5.6M988.7 111.4v5.6M985.6 113.8h5.6M988.4 111.0v5.6M997.2 116.4h5.6M1000.0 113.6v5.6M991.8 114.0h5.6M994.6 111.2v5.6M989.7 111.2h5.6M992.5 108.4v5.6M1003.1 119.8h5.6M1005.9 117.0v5.6M991.0 112.2h5.6M993.8 109.4v5.6M991.1 115.3h5.6M993.9 112.5v5.6M1008.7 118.1h5.6M1011.5 115.3v5.6M990.3 111.5h5.6M993.1 108.7v5.6M1001.9 120.1h5.6M1004.7 117.3v5.6M992.5 115.2h5.6M995.3 112.4v5.6M977.5 111.6h5.6M980.3 108.8v5.6M998.2 118.3h5.6M1001.0 115.5v5.6M1005.6 119.2h5.6M1008.4 116.4v5.6M979.9 107.3h5.6M982.7 104.5v5.6M999.7 114.6h5.6M1002.5 111.8v5.6M1018.2 113.7h5.6M1021.0 110.9v5.6M1012.0 120.2h5.6M1014.8 117.4v5.6M1016.3 123.3h5.6M1019.1 120.5v5.6M1018.3 120.9h5.6M1021.1 118.1v5.6M1012.2 122.5h5.6M1015.0 119.7v5.6M1011.7 119.9h5.6M1014.5 117.1v5.6M1021.6 123.4h5.6M1024.4 120.6v5.6M996.7 130.7h5.6M999.5 127.9v5.6M992.9 136.2h5.6M995.7 133.4v5.6M982.3 138.6h5.6M985.1 135.8v5.6M997.0 130.6h5.6M999.8 127.8v5.6M994.5 130.7h5.6M997.3 127.9v5.6M985.0 134.9h5.6M987.8 132.1v5.6M980.9 136.3h5.6M983.7 133.5v5.6M998.3 128.1h5.6M1001.1 125.3v5.6M997.6 124.8h5.6M1000.4 122.0v5.6M996.0 128.0h5.6M998.8 125.2v5.6M998.1 130.4h5.6M1000.9 127.6v5.6M997.2 124.0h5.6M1000.0 121.2v5.6M981.3 136.6h5.6M984.1 133.8v5.6M991.8 132.1h5.6M994.6 129.3v5.6M980.3 126.3h5.6M983.1 123.5v5.6M990.2 148.4h5.6M993.0 145.6v5.6M1010.8 142.6h5.6M1013.6 139.8v5.6M989.2 147.4h5.6M992.0 144.6v5.6M982.1 148.6h5.6M984.9 145.8v5.6M995.4 142.4h5.6M998.2 139.6v5.6M996.2 144.4h5.6M999.0 141.6v5.6M982.3 146.6h5.6M985.1 143.8v5.6M999.9 142.4h5.6M1002.7 139.6v5.6M986.6 149.6h5.6M989.4 146.8v5.6M992.7 144.5h5.6M995.5 141.7v5.6M987.4 148.8h5.6M990.2 146.0v5.6M999.0 142.9h5.6M1001.8 140.1v5.6M992.5 145.3h5.6M995.3 142.5v5.6M1018.4 139.8h5.6M1021.2 137.0v5.6M1007.3 143.6h5.6M1010.1 140.8v5.6M993.3 148.3h5.6M996.1 145.5v5.6M997.7 120.7h5.6M1000.5 117.9v5.6M992.0 59.2h5.6M994.8 56.4v5.6M986.6 129.7h5.6M989.4 126.9v5.6M989.7 58.4h5.6M992.5 55.6v5.6M1021.0 113.4h5.6M1023.8 110.6v5.6M1013.5 104.5h5.6M1016.3 101.7v5.6M985.9 145.4h5.6M988.7 142.6v5.6M1021.2 118.1h5.6M1024.0 115.3v5.6M992.0 151.6h5.6M994.8 148.8v5.6M1011.8 117.4h5.6M1014.6 114.6v5.6" stroke="#e0141e" stroke-width="1.2" fill="none"/>
<path d="M988.4 46.0 L988.9 47.7 L989.5 49.4 L990.1 51.0 L990.8 52.7 L991.6 54.4 L992.4 56.0 L993.3 57.7 L994.3 59.4 L995.4 61.1 L996.5 62.8 L997.7 64.4 L999.0 66.1 L1000.4 67.8 L1001.9 69.5 L1003.4 71.1 L1004.9 72.8 L1006.5 74.5 L1008.2 76.2 L1009.9 77.8 L1011.6 79.5 L1013.3 81.2 L1015.0 82.8 L1016.7 84.5 L1018.3 86.2 L1019.9 87.9 L1021.5 89.5 L1022.9 91.2 L1024.3 92.9 L1025.6 94.6 L1026.7 96.2 L1027.7 97.9 L1028.6 99.6 L1029.3 101.3 L1029.9 103.0 L1030.2 104.6 L1030.5 106.3 L1030.5 108.0 L1030.4 109.7 L1030.0 111.3 L1029.6 113.0 L1028.9 114.7 L1028.1 116.3 L1027.2 118.0 L1026.1 119.7 L1024.9 121.4 L1023.5 123.0 L1022.1 124.7 L1020.6 126.4 L1019.0 128.1 L1017.4 129.8 L1015.7 131.4 L1014.0 133.1 L1012.3 134.8 L1010.6 136.4 L1008.9 138.1 L1007.2 139.8 L1005.6 141.5 L1004.0 143.2 L1002.5 144.8 L1001.0 146.5 L999.6 148.2 L998.3 149.8 L997.0 151.5 L995.9 153.2 L994.8 154.9 L993.7 156.6 L992.8 158.2 L991.9 159.9 L991.1 161.6 L990.4 163.2 L989.7 164.9 L989.1 166.6 L988.6 168.3 L988.1 169.9 L987.7 171.6 L987.3 173.3 L987.0 175.0 L986.7 176.7 L986.5 178.3 L986.2 180.0" stroke="#e0141e" stroke-width="2" fill="none"/>
<line x1="897.4" y1="108.1" x2="1062" y2="108.1" stroke="#b3142a" stroke-width="2"/>
<rect x="936" y="105.5" width="4" height="3" fill="#fff" opacity="0.35"/>
<line x1="728.6" y1="306.9" x2="728.6" y2="328.9" stroke="#000" stroke-width="2.2"/>
<line x1="728.6" y1="349.5" x2="728.6" y2="366.2" stroke="#000" stroke-width="2.2"/>
<line x1="711.9" y1="306.9" x2="745.3" y2="306.9" stroke="#000" stroke-width="2.2"/>
<line x1="711.9" y1="366.2" x2="745.3" y2="366.2" stroke="#000" stroke-width="2.2"/>
<rect x="696.0" y="328.9" width="65.2" height="20.6" fill="#7f7f7f" stroke="#4c4c4c" stroke-width="1.4"/>
<line x1="697.0" y1="345.3" x2="760.2" y2="345.3" stroke="#fff" stroke-width="2.6" opacity="0.95"/>
<path d="M769.8 305.0h6.4M773.0 301.8v6.4M774.2 317.6h6.4M777.4 314.4v6.4M777.2 317.0h6.4M780.4 313.8v6.4M776.1 319.1h6.4M779.3 315.9v6.4M771.8 320.1h6.4M775.0 316.9v6.4M771.6 319.5h6.4M774.8 316.3v6.4M771.9 317.1h6.4M775.1 313.9v6.4M783.8 313.0h6.4M787.0 309.8v6.4M769.8 330.0h6.4M773.0 326.8v6.4M792.6 335.1h6.4M795.8 331.9v6.4M786.0 330.3h6.4M789.2 327.1v6.4M797.1 336.1h6.4M800.3 332.9v6.4M796.0 331.7h6.4M799.2 328.5v6.4M804.8 328.9h6.4M808.0 325.7v6.4M802.2 330.8h6.4M805.4 327.6v6.4M786.5 329.4h6.4M789.7 326.2v6.4M790.1 335.0h6.4M793.3 331.8v6.4M787.3 333.2h6.4M790.5 330.0v6.4M797.4 331.5h6.4M800.6 328.3v6.4M792.7 343.9h6.4M795.9 340.7v6.4M773.6 344.9h6.4M776.8 341.7v6.4M797.8 346.5h6.4M801.0 343.3v6.4M783.6 347.6h6.4M786.8 344.4v6.4M789.0 345.6h6.4M792.2 342.4v6.4M802.3 348.4h6.4M805.5 345.2v6.4M780.8 347.5h6.4M784.0 344.3v6.4M791.8 349.6h6.4M795.0 346.4v6.4M799.7 345.5h6.4M802.9 342.3v6.4M809.5 344.3h6.4M812.7 341.1v6.4M787.6 348.8h6.4M790.8 345.6v6.4M777.2 346.9h6.4M780.4 343.7v6.4M772.8 348.2h6.4M776.0 345.0v6.4M801.1 347.5h6.4M804.3 344.3v6.4M805.4 345.7h6.4M808.6 342.5v6.4M798.4 347.7h6.4M801.6 344.5v6.4M782.3 354.7h6.4M785.5 351.5v6.4M787.3 358.1h6.4M790.5 354.9v6.4M780.3 356.1h6.4M783.5 352.9v6.4M772.5 356.4h6.4M775.7 353.2v6.4M783.6 358.5h6.4M786.8 355.3v6.4M786.9 353.5h6.4M790.1 350.3v6.4M778.6 356.2h6.4M781.8 353.0v6.4M771.7 354.7h6.4M774.9 351.5v6.4M772.3 362.0h6.4M775.5 358.8v6.4M771.7 364.6h6.4M774.9 361.4v6.4M772.1 362.5h6.4M775.3 359.3v6.4M773.6 365.0h6.4M776.8 361.8v6.4M789.5 330.5h6.4M792.7 327.3v6.4M777.9 353.2h6.4M781.1 350.0v6.4M790.5 324.4h6.4M793.7 321.2v6.4M772.5 312.6h6.4M775.7 309.4v6.4M773.4 315.8h6.4M776.6 312.6v6.4M782.2 340.1h6.4M785.4 336.9v6.4M782.0 328.5h6.4M785.2 325.3v6.4M776.5 362.7h6.4M779.7 359.5v6.4M796.9 333.5h6.4M800.1 330.3v6.4M779.4 361.2h6.4M782.6 358.0v6.4M787.1 344.8h6.4M790.3 341.6v6.4M773.4 343.1h6.4M776.6 339.9v6.4M772.6 314.2h6.4M775.8 311.0v6.4M770.8 303.6h6.4M774.0 300.4v6.4M774.8 306.9h6.4M778.0 303.7v6.4M778.5 359.5h6.4M781.7 356.3v6.4M774.6 317.2h6.4M777.8 314.0v6.4M780.1 308.4h6.4M783.3 305.2v6.4M782.4 325.7h6.4M785.6 322.5v6.4M771.9 305.8h6.4M775.1 302.6v6.4M779.9 318.0h6.4M783.1 314.8v6.4M781.3 301.6h6.4M784.5 298.4v6.4M771.6 351.9h6.4M774.8 348.7v6.4M790.8 355.5h6.4M794.0 352.3v6.4" stroke="#000" stroke-width="1.2" fill="none"/>
<path d="M772.7 293.0 L772.8 294.0 L772.9 295.0 L773.0 296.0 L773.1 297.0 L773.2 298.0 L773.4 299.0 L773.6 300.0 L773.8 301.0 L774.0 302.0 L774.3 303.0 L774.7 304.0 L775.1 305.0 L775.5 306.0 L776.0 307.0 L776.6 308.0 L777.3 309.0 L778.0 310.0 L778.8 311.0 L779.8 312.0 L780.8 313.0 L781.9 314.0 L783.1 315.0 L784.4 316.0 L785.8 317.0 L787.3 318.0 L788.9 319.0 L790.6 320.0 L792.3 321.0 L794.2 322.0 L796.0 323.0 L798.0 324.0 L799.9 325.0 L801.9 326.0 L803.9 327.0 L805.8 328.0 L807.7 329.0 L809.5 330.0 L811.3 331.0 L812.9 332.0 L814.4 333.0 L815.8 334.0 L817.0 335.0 L818.0 336.0 L818.8 337.0 L819.4 338.0 L819.8 339.0 L820.0 340.0 L819.9 341.0 L819.6 342.0 L819.0 343.0 L818.2 344.0 L817.1 345.0 L815.8 346.0 L814.3 347.0 L812.6 348.0 L810.7 349.0 L808.8 350.0 L806.7 351.0 L804.6 352.0 L802.4 353.0 L800.2 354.0 L798.0 355.0 L795.9 356.0 L793.8 357.0 L791.8 358.0 L789.9 359.0 L788.1 360.0 L786.4 361.0 L784.8 362.0 L783.3 363.0 L782.0 364.0 L780.7 365.0 L779.6 366.0 L778.6 367.0 L777.8 368.0 L777.0 369.0 L776.3 370.0 L775.7 371.0 L775.2 372.0 L774.7 373.0" stroke="#000" stroke-width="2" fill="none"/>
<line x1="688" y1="340.3" x2="853" y2="340.3" stroke="#000" stroke-width="2"/>
<rect x="726.8" y="335.9" width="4" height="3" fill="#fff" opacity="0.85"/>
<line x1="938.2" y1="252.9" x2="938.2" y2="303.6" stroke="#b8182a" stroke-width="2.2"/>
<line x1="938.2" y1="338.8" x2="938.2" y2="361.4" stroke="#b8182a" stroke-width="2.2"/>
<line x1="920.9" y1="252.9" x2="955.5" y2="252.9" stroke="#b8182a" stroke-width="2.2"/>
<line x1="920.9" y1="361.4" x2="955.5" y2="361.4" stroke="#b8182a" stroke-width="2.2"/>
<rect x="905.4" y="303.6" width="65.4" height="35.2" fill="#f7807f" stroke="#ea5a60" stroke-width="1.4"/>
<line x1="906.4" y1="325.7" x2="969.8" y2="325.7" stroke="#fff" stroke-width="2.6" opacity="0.6"/>
<path d="M981.8 260.2h5.6M984.6 257.4v5.6M981.3 258.1h5.6M984.1 255.3v5.6M981.1 254.5h5.6M983.9 251.7v5.6M985.7 254.2h5.6M988.5 251.4v5.6M983.9 256.2h5.6M986.7 253.4v5.6M985.2 270.5h5.6M988.0 267.7v5.6M982.6 271.8h5.6M985.4 269.0v5.6M981.6 269.4h5.6M984.4 266.6v5.6M980.9 269.6h5.6M983.7 266.8v5.6M985.2 283.1h5.6M988.0 280.3v5.6M984.9 280.0h5.6M987.7 277.2v5.6M983.5 283.5h5.6M986.3 280.7v5.6M981.4 282.0h5.6M984.2 279.2v5.6M984.8 282.1h5.6M987.6 279.3v5.6M984.4 282.3h5.6M987.2 279.5v5.6M986.2 292.8h5.6M989.0 290.0v5.6M990.6 292.7h5.6M993.4 289.9v5.6M982.3 291.6h5.6M985.1 288.8v5.6M991.1 292.5h5.6M993.9 289.7v5.6M982.8 293.4h5.6M985.6 290.6v5.6M987.1 293.0h5.6M989.9 290.2v5.6M992.2 304.9h5.6M995.0 302.1v5.6M985.3 307.9h5.6M988.1 305.1v5.6M982.5 307.3h5.6M985.3 304.5v5.6M982.0 307.0h5.6M984.8 304.2v5.6M989.8 308.2h5.6M992.6 305.4v5.6M991.7 306.0h5.6M994.5 303.2v5.6M983.3 304.3h5.6M986.1 301.5v5.6M987.6 306.0h5.6M990.4 303.2v5.6M981.8 320.2h5.6M984.6 317.4v5.6M988.8 319.6h5.6M991.6 316.8v5.6M984.2 318.2h5.6M987.0 315.4v5.6M980.9 318.5h5.6M983.7 315.7v5.6M985.0 318.8h5.6M987.8 316.0v5.6M986.7 320.0h5.6M989.5 317.2v5.6M995.0 318.0h5.6M997.8 315.2v5.6M987.0 318.0h5.6M989.8 315.2v5.6M991.3 320.4h5.6M994.1 317.6v5.6M983.9 319.8h5.6M986.7 317.0v5.6M991.6 323.9h5.6M994.4 321.1v5.6M1011.6 333.1h5.6M1014.4 330.3v5.6M986.0 335.7h5.6M988.8 332.9v5.6M988.7 335.0h5.6M991.5 332.2v5.6M997.9 335.2h5.6M1000.7 332.4v5.6M1004.0 331.6h5.6M1006.8 328.8v5.6M982.8 325.9h5.6M985.6 323.1v5.6M983.3 338.1h5.6M986.1 335.3v5.6M994.2 346.1h5.6M997.0 343.3v5.6M1000.4 343.3h5.6M1003.2 340.5v5.6M1020.8 325.3h5.6M1023.6 322.5v5.6M979.4 327.4h5.6M982.2 324.6v5.6M995.3 339.6h5.6M998.1 336.8v5.6M1010.7 333.3h5.6M1013.5 330.5v5.6M1020.2 323.6h5.6M1023.0 320.8v5.6M1014.6 329.4h5.6M1017.4 326.6v5.6M1016.3 324.4h5.6M1019.1 321.6v5.6M1020.2 344.8h5.6M1023.0 342.0v5.6M1021.3 339.7h5.6M1024.1 336.9v5.6M986.3 350.7h5.6M989.1 347.9v5.6M997.7 325.8h5.6M1000.5 323.0v5.6M1004.7 337.4h5.6M1007.5 334.6v5.6M999.0 327.8h5.6M1001.8 325.0v5.6M983.9 339.8h5.6M986.7 337.0v5.6M998.2 327.0h5.6M1001.0 324.2v5.6M997.6 343.8h5.6M1000.4 341.0v5.6M1009.5 336.7h5.6M1012.3 333.9v5.6M995.6 333.6h5.6M998.4 330.8v5.6M988.4 329.0h5.6M991.2 326.2v5.6M997.9 326.5h5.6M1000.7 323.7v5.6M988.0 355.0h5.6M990.8 352.2v5.6M986.8 351.6h5.6M989.6 348.8v5.6M984.3 353.7h5.6M987.1 350.9v5.6M981.6 356.3h5.6M984.4 353.5v5.6M988.3 354.0h5.6M991.1 351.2v5.6" stroke="#e0141e" stroke-width="1.2" fill="none"/>
<path d="M984.1 245.0 L984.4 246.6 L984.6 248.2 L984.9 249.8 L985.2 251.3 L985.6 252.9 L985.9 254.5 L986.4 256.1 L986.9 257.7 L987.4 259.3 L988.0 260.9 L988.7 262.5 L989.4 264.1 L990.1 265.6 L991.0 267.2 L991.9 268.8 L992.9 270.4 L993.9 272.0 L995.0 273.6 L996.2 275.2 L997.4 276.8 L998.7 278.3 L1000.1 279.9 L1001.5 281.5 L1003.0 283.1 L1004.5 284.7 L1006.0 286.3 L1007.6 287.9 L1009.2 289.4 L1010.8 291.0 L1012.5 292.6 L1014.1 294.2 L1015.7 295.8 L1017.2 297.4 L1018.8 299.0 L1020.2 300.6 L1021.6 302.1 L1022.9 303.7 L1024.2 305.3 L1025.3 306.9 L1026.3 308.5 L1027.3 310.1 L1028.0 311.7 L1028.7 313.3 L1029.2 314.9 L1029.5 316.4 L1029.7 318.0 L1029.8 319.6 L1029.7 321.2 L1029.5 322.8 L1029.1 324.4 L1028.5 326.0 L1027.8 327.6 L1027.0 329.1 L1026.1 330.7 L1025.0 332.3 L1023.9 333.9 L1022.6 335.5 L1021.3 337.1 L1019.8 338.7 L1018.3 340.2 L1016.8 341.8 L1015.2 343.4 L1013.6 345.0 L1012.0 346.6 L1010.4 348.2 L1008.8 349.8 L1007.2 351.4 L1005.6 352.9 L1004.1 354.5 L1002.6 356.1 L1001.1 357.7 L999.7 359.3 L998.4 360.9 L997.1 362.5 L995.9 364.1 L994.7 365.6 L993.6 367.2 L992.6 368.8 L991.6 370.4 L990.7 372.0" stroke="#e0141e" stroke-width="2" fill="none"/>
<line x1="897.1" y1="319.4" x2="1062.6" y2="319.4" stroke="#b3142a" stroke-width="2"/>
<rect x="936" y="316.5" width="4" height="3" fill="#fff" opacity="0.35"/>
<line x1="1250.6" y1="56.4" x2="1250.6" y2="78.4" stroke="#000" stroke-width="2.2"/>
<line x1="1250.6" y1="131.3" x2="1250.6" y2="168.4" stroke="#000" stroke-width="2.2"/>
<line x1="1234.1" y1="56.4" x2="1267.1" y2="56.4" stroke="#000" stroke-width="2.2"/>
<line x1="1234.1" y1="168.4" x2="1267.1" y2="168.4" stroke="#000" stroke-width="2.2"/>
<rect x="1218.6" y="78.4" width="62.3" height="52.9" fill="#7f7f7f" stroke="#4c4c4c" stroke-width="1.4"/>
<line x1="1219.6" y1="94.4" x2="1279.9" y2="94.4" stroke="#fff" stroke-width="2.6" opacity="0.95"/>
<path d="M1301.5 62.2h6.0M1304.5 59.2v6.0M1293.1 71.1h6.0M1296.1 68.1v6.0M1289.7 64.6h6.0M1292.7 61.6v6.0M1312.9 57.0h6.0M1315.9 54.0v6.0M1303.9 66.6h6.0M1306.9 63.6v6.0M1290.6 62.3h6.0M1293.6 59.3v6.0M1307.8 63.6h6.0M1310.8 60.6v6.0M1308.4 58.3h6.0M1311.4 55.3v6.0M1295.7 57.5h6.0M1298.7 54.5v6.0M1302.7 72.1h6.0M1305.7 69.1v6.0M1304.9 69.4h6.0M1307.9 66.4v6.0M1299.5 68.9h6.0M1302.5 65.9v6.0M1292.1 60.7h6.0M1295.1 57.7v6.0M1307.0 68.6h6.0M1310.0 65.6v6.0M1300.5 57.1h6.0M1303.5 54.1v6.0M1296.4 59.3h6.0M1299.4 56.3v6.0M1296.8 70.1h6.0M1299.8 67.1v6.0M1294.7 71.5h6.0M1297.7 68.5v6.0M1312.4 56.5h6.0M1315.4 53.5v6.0M1299.3 64.4h6.0M1302.3 61.4v6.0M1290.1 63.1h6.0M1293.1 60.1v6.0M1313.1 57.5h6.0M1316.1 54.5v6.0M1330.5 76.3h6.0M1333.5 73.3v6.0M1330.3 81.8h6.0M1333.3 78.8v6.0M1326.5 75.6h6.0M1329.5 72.6v6.0M1325.3 79.3h6.0M1328.3 76.3v6.0M1324.7 76.1h6.0M1327.7 73.1v6.0M1329.5 81.9h6.0M1332.5 78.9v6.0M1299.2 84.5h6.0M1302.2 81.5v6.0M1304.2 79.9h6.0M1307.2 76.9v6.0M1302.8 81.1h6.0M1305.8 78.1v6.0M1303.5 92.9h6.0M1306.5 89.9v6.0M1290.7 86.8h6.0M1293.7 83.8v6.0M1303.4 80.7h6.0M1306.4 77.7v6.0M1295.7 93.4h6.0M1298.7 90.4v6.0M1312.5 80.3h6.0M1315.5 77.3v6.0M1305.7 92.8h6.0M1308.7 89.8v6.0M1294.9 87.7h6.0M1297.9 84.7v6.0M1290.5 84.0h6.0M1293.5 81.0v6.0M1305.0 87.4h6.0M1308.0 84.4v6.0M1307.3 79.8h6.0M1310.3 76.8v6.0M1297.5 91.5h6.0M1300.5 88.5v6.0M1302.9 85.3h6.0M1305.9 82.3v6.0M1298.7 93.3h6.0M1301.7 90.3v6.0M1296.1 106.7h6.0M1299.1 103.7v6.0M1297.9 110.4h6.0M1300.9 107.4v6.0M1295.0 109.1h6.0M1298.0 106.1v6.0M1295.1 110.4h6.0M1298.1 107.4v6.0M1292.2 114.1h6.0M1295.2 111.1v6.0M1292.3 115.9h6.0M1295.3 112.9v6.0M1291.7 115.9h6.0M1294.7 112.9v6.0M1295.2 130.0h6.0M1298.2 127.0v6.0M1294.5 128.2h6.0M1297.5 125.2v6.0M1294.7 129.5h6.0M1297.7 126.5v6.0M1291.1 133.2h6.0M1294.1 130.2v6.0M1309.7 128.9h6.0M1312.7 125.9v6.0M1315.7 128.9h6.0M1318.7 125.9v6.0M1313.2 128.7h6.0M1316.2 125.7v6.0M1315.5 128.8h6.0M1318.5 125.8v6.0M1305.2 129.5h6.0M1308.2 126.5v6.0M1306.7 129.4h6.0M1309.7 126.4v6.0M1305.3 146.0h6.0M1308.3 143.0v6.0M1289.7 135.7h6.0M1292.7 132.7v6.0M1292.8 141.9h6.0M1295.8 138.9v6.0M1299.3 152.9h6.0M1302.3 149.9v6.0M1295.2 137.2h6.0M1298.2 134.2v6.0M1298.5 137.1h6.0M1301.5 134.1v6.0M1290.9 145.1h6.0M1293.9 142.1v6.0M1300.6 135.7h6.0M1303.6 132.7v6.0M1296.7 147.9h6.0M1299.7 144.9v6.0M1301.7 141.8h6.0M1304.7 138.8v6.0M1303.7 137.7h6.0M1306.7 134.7v6.0M1300.9 149.2h6.0M1303.9 146.2v6.0M1298.5 161.9h6.0M1301.5 158.9v6.0M1292.3 155.2h6.0M1295.3 152.2v6.0M1295.7 157.1h6.0M1298.7 154.1v6.0M1296.5 155.8h6.0M1299.5 152.8v6.0M1297.7 157.8h6.0M1300.7 154.8v6.0M1291.6 157.1h6.0M1294.6 154.1v6.0M1302.4 77.7h6.0M1305.4 74.7v6.0M1315.1 74.2h6.0M1318.1 71.2v6.0M1300.1 63.9h6.0M1303.1 60.9v6.0M1294.1 93.1h6.0M1297.1 90.1v6.0M1310.9 76.3h6.0M1313.9 73.3v6.0M1295.7 97.1h6.0M1298.7 94.1v6.0M1302.8 65.9h6.0M1305.8 62.9v6.0M1302.6 79.7h6.0M1305.6 76.7v6.0M1301.1 56.2h6.0M1304.1 53.2v6.0M1309.6 79.5h6.0M1312.6 76.5v6.0M1298.9 93.8h6.0M1301.9 90.8v6.0M1307.8 80.7h6.0M1310.8 77.7v6.0M1303.4 87.7h6.0M1306.4 84.7v6.0M1302.3 53.4h6.0M1305.3 50.4v6.0M1299.0 68.6h6.0M1302.0 65.6v6.0M1297.2 63.2h6.0M1300.2 60.2v6.0M1305.3 81.8h6.0M1308.3 78.8v6.0M1301.3 93.3h6.0M1304.3 90.3v6.0M1293.5 85.3h6.0M1296.5 82.3v6.0M1305.7 65.8h6.0M1308.7 62.8v6.0M1320.6 89.6h6.0M1323.6 86.6v6.0M1314.8 74.6h6.0M1317.8 71.6v6.0M1311.2 72.6h6.0M1314.2 69.6v6.0M1295.4 61.6h6.0M1298.4 58.6v6.0M1308.6 80.1h6.0M1311.6 77.1v6.0M1296.9 60.6h6.0M1299.9 57.6v6.0M1298.5 59.8h6.0M1301.5 56.8v6.0M1313.7 84.7h6.0M1316.7 81.7v6.0M1295.8 150.0h6.0M1298.8 147.0v6.0M1301.6 149.3h6.0M1304.6 146.3v6.0M1297.9 148.8h6.0M1300.9 145.8v6.0M1297.2 164.1h6.0M1300.2 161.1v6.0M1294.6 153.7h6.0M1297.6 150.7v6.0M1302.4 158.5h6.0M1305.4 155.5v6.0M1299.2 141.8h6.0M1302.2 138.8v6.0M1301.1 135.3h6.0M1304.1 132.3v6.0M1302.9 149.5h6.0M1305.9 146.5v6.0M1291.7 157.8h6.0M1294.7 154.8v6.0M1298.9 159.6h6.0M1301.9 156.6v6.0M1312.4 128.5h6.0M1315.4 125.5v6.0M1308.3 138.2h6.0M1311.3 135.2v6.0M1298.9 149.0h6.0M1301.9 146.0v6.0" stroke="#000" stroke-width="1.3" fill="none"/>
<path d="M1300.0 43.0 L1300.7 44.8 L1301.6 46.5 L1302.5 48.2 L1303.4 50.0 L1304.4 51.8 L1305.5 53.5 L1306.7 55.2 L1307.9 57.0 L1309.1 58.8 L1310.4 60.5 L1311.8 62.2 L1313.2 64.0 L1314.6 65.8 L1316.1 67.5 L1317.6 69.2 L1319.1 71.0 L1320.7 72.8 L1322.2 74.5 L1323.7 76.2 L1325.2 78.0 L1326.7 79.8 L1328.2 81.5 L1329.6 83.2 L1330.9 85.0 L1332.2 86.8 L1333.3 88.5 L1334.4 90.2 L1335.4 92.0 L1336.3 93.8 L1337.1 95.5 L1337.7 97.2 L1338.2 99.0 L1338.6 100.8 L1338.9 102.5 L1339.0 104.2 L1339.0 106.0 L1338.8 107.8 L1338.5 109.5 L1338.1 111.2 L1337.5 113.0 L1336.8 114.8 L1336.0 116.5 L1335.1 118.2 L1334.0 120.0 L1332.9 121.8 L1331.7 123.5 L1330.4 125.2 L1329.1 127.0 L1327.6 128.8 L1326.2 130.5 L1324.7 132.2 L1323.2 134.0 L1321.6 135.8 L1320.1 137.5 L1318.6 139.2 L1317.1 141.0 L1315.6 142.8 L1314.1 144.5 L1312.7 146.2 L1311.3 148.0 L1309.9 149.8 L1308.6 151.5 L1307.4 153.2 L1306.2 155.0 L1305.1 156.8 L1304.1 158.5 L1303.1 160.2 L1302.1 162.0 L1301.3 163.8 L1300.4 165.5 L1299.7 167.2 L1299.0 169.0 L1298.4 170.8 L1297.8 172.5 L1297.2 174.2 L1296.8 176.0 L1296.3 177.8 L1295.9 179.5 L1295.6 181.2 L1295.2 183.0" stroke="#000" stroke-width="2" fill="none"/>
<line x1="1211.4" y1="104.6" x2="1370.7" y2="104.6" stroke="#000" stroke-width="2"/>
<rect x="1248.6" y="104.9" width="4" height="3" fill="#fff" opacity="0.85"/>
<line x1="1453.2" y1="76.3" x2="1453.2" y2="97.1" stroke="#b8182a" stroke-width="2.2"/>
<line x1="1453.2" y1="125.4" x2="1453.2" y2="154.2" stroke="#b8182a" stroke-width="2.2"/>
<line x1="1436.9" y1="76.3" x2="1469.5" y2="76.3" stroke="#b8182a" stroke-width="2.2"/>
<line x1="1436.9" y1="154.2" x2="1469.5" y2="154.2" stroke="#b8182a" stroke-width="2.2"/>
<rect x="1420.9" y="97.1" width="62.8" height="28.3" fill="#f7807f" stroke="#ea5a60" stroke-width="1.4"/>
<line x1="1421.9" y1="115.5" x2="1482.7" y2="115.5" stroke="#fff" stroke-width="2.6" opacity="0.6"/>
<path d="M1494.9 81.2h5.8M1497.8 78.3v5.8M1494.9 78.8h5.8M1497.8 75.9v5.8M1495.9 85.6h5.8M1498.8 82.7v5.8M1495.2 78.3h5.8M1498.1 75.4v5.8M1494.7 80.1h5.8M1497.6 77.2v5.8M1493.6 87.0h5.8M1496.5 84.1v5.8M1496.6 77.0h5.8M1499.5 74.1v5.8M1496.0 83.1h5.8M1498.9 80.2v5.8M1507.8 94.1h5.8M1510.7 91.2v5.8M1511.3 94.8h5.8M1514.2 91.9v5.8M1503.5 93.1h5.8M1506.4 90.2v5.8M1523.8 96.9h5.8M1526.7 94.0v5.8M1497.7 91.8h5.8M1500.6 88.9v5.8M1506.1 94.3h5.8M1509.0 91.4v5.8M1507.2 92.6h5.8M1510.1 89.7v5.8M1501.1 92.0h5.8M1504.0 89.1v5.8M1501.9 91.1h5.8M1504.8 88.2v5.8M1500.0 91.6h5.8M1502.9 88.7v5.8M1515.7 97.3h5.8M1518.6 94.4v5.8M1503.1 90.8h5.8M1506.0 87.9v5.8M1517.9 107.7h5.8M1520.8 104.8v5.8M1525.2 107.6h5.8M1528.1 104.7v5.8M1499.6 115.4h5.8M1502.5 112.5v5.8M1532.4 111.3h5.8M1535.3 108.4v5.8M1510.0 109.2h5.8M1512.9 106.3v5.8M1504.1 113.3h5.8M1507.0 110.4v5.8M1500.1 107.8h5.8M1503.0 104.9v5.8M1511.7 108.3h5.8M1514.6 105.4v5.8M1519.8 115.5h5.8M1522.7 112.6v5.8M1525.3 111.8h5.8M1528.2 108.9v5.8M1507.2 111.3h5.8M1510.1 108.4v5.8M1492.8 114.3h5.8M1495.7 111.4v5.8M1506.5 110.0h5.8M1509.4 107.1v5.8M1496.0 111.4h5.8M1498.9 108.5v5.8M1517.1 110.8h5.8M1520.0 107.9v5.8M1529.1 113.9h5.8M1532.0 111.0v5.8M1502.7 112.3h5.8M1505.6 109.4v5.8M1530.8 112.2h5.8M1533.7 109.3v5.8M1517.9 107.2h5.8M1520.8 104.3v5.8M1513.2 111.6h5.8M1516.1 108.7v5.8M1509.4 111.1h5.8M1512.3 108.2v5.8M1517.2 112.4h5.8M1520.1 109.5v5.8M1513.2 108.3h5.8M1516.1 105.4v5.8M1511.1 117.2h5.8M1514.0 114.3v5.8M1510.0 106.9h5.8M1512.9 104.0v5.8M1492.7 112.4h5.8M1495.6 109.5v5.8M1494.7 107.5h5.8M1497.6 104.6v5.8M1497.2 111.5h5.8M1500.1 108.6v5.8M1534.3 111.8h5.8M1537.2 108.9v5.8M1511.9 111.3h5.8M1514.8 108.4v5.8M1508.4 129.1h5.8M1511.3 126.2v5.8M1519.5 120.5h5.8M1522.4 117.6v5.8M1514.4 123.6h5.8M1517.3 120.7v5.8M1502.6 133.7h5.8M1505.5 130.8v5.8M1512.6 127.1h5.8M1515.5 124.2v5.8M1509.6 130.7h5.8M1512.5 127.8v5.8M1508.8 130.3h5.8M1511.7 127.4v5.8M1516.0 123.1h5.8M1518.9 120.2v5.8M1517.6 125.6h5.8M1520.5 122.7v5.8M1504.1 130.1h5.8M1507.0 127.2v5.8M1513.1 124.7h5.8M1516.0 121.8v5.8M1502.7 129.2h5.8M1505.6 126.3v5.8M1499.3 135.8h5.8M1502.2 132.9v5.8M1518.1 122.2h5.8M1521.0 119.3v5.8M1498.2 137.9h5.8M1501.1 135.0v5.8M1496.0 140.1h5.8M1498.9 137.2v5.8M1497.0 133.8h5.8M1499.9 130.9v5.8M1495.5 139.5h5.8M1498.4 136.6v5.8M1497.6 132.9h5.8M1500.5 130.0v5.8M1497.5 143.5h5.8M1500.4 140.6v5.8M1499.6 139.9h5.8M1502.5 137.0v5.8M1493.2 136.3h5.8M1496.1 133.4v5.8M1493.3 130.4h5.8M1496.2 127.5v5.8M1494.6 136.8h5.8M1497.5 133.9v5.8M1498.7 139.6h5.8M1501.6 136.7v5.8M1494.9 140.6h5.8M1497.8 137.7v5.8M1502.1 152.0h5.8M1505.0 149.1v5.8M1497.1 150.0h5.8M1500.0 147.1v5.8M1507.2 97.1h5.8M1510.1 94.2v5.8M1508.5 129.8h5.8M1511.4 126.9v5.8M1514.8 111.3h5.8M1517.7 108.4v5.8M1524.9 112.8h5.8M1527.8 109.9v5.8M1505.6 82.5h5.8M1508.5 79.6v5.8M1510.1 134.6h5.8M1513.0 131.7v5.8M1507.9 138.7h5.8M1510.8 135.8v5.8M1505.2 100.2h5.8M1508.1 97.3v5.8M1501.0 100.4h5.8M1503.9 97.5v5.8M1503.7 83.1h5.8M1506.6 80.2v5.8M1502.6 102.6h5.8M1505.5 99.7v5.8M1513.3 126.7h5.8M1516.2 123.8v5.8M1504.6 148.1h5.8M1507.5 145.2v5.8M1510.8 90.9h5.8M1513.7 88.0v5.8M1516.2 109.4h5.8M1519.1 106.5v5.8M1508.2 118.2h5.8M1511.1 115.3v5.8M1496.6 127.2h5.8M1499.5 124.3v5.8M1514.0 127.1h5.8M1516.9 124.2v5.8M1503.7 87.7h5.8M1506.6 84.8v5.8M1522.7 97.2h5.8M1525.6 94.3v5.8M1500.6 144.2h5.8M1503.5 141.3v5.8M1516.7 105.4h5.8M1519.6 102.5v5.8M1506.4 86.8h5.8M1509.3 83.9v5.8M1508.9 87.5h5.8M1511.8 84.6v5.8M1509.6 137.0h5.8M1512.5 134.1v5.8" stroke="#e0141e" stroke-width="1.25" fill="none"/>
<path d="M1496.6 51.0 L1496.7 52.5 L1496.8 54.1 L1496.9 55.6 L1497.0 57.2 L1497.2 58.8 L1497.4 60.3 L1497.6 61.9 L1497.9 63.4 L1498.2 65.0 L1498.7 66.5 L1499.1 68.0 L1499.7 69.6 L1500.4 71.2 L1501.1 72.7 L1502.0 74.2 L1503.0 75.8 L1504.1 77.3 L1505.3 78.9 L1506.7 80.5 L1508.2 82.0 L1509.8 83.5 L1511.6 85.1 L1513.4 86.7 L1515.4 88.2 L1517.5 89.8 L1519.6 91.3 L1521.8 92.8 L1524.1 94.4 L1526.3 96.0 L1528.5 97.5 L1530.6 99.0 L1532.7 100.6 L1534.6 102.2 L1536.3 103.7 L1537.9 105.2 L1539.2 106.8 L1540.3 108.3 L1541.2 109.9 L1541.7 111.5 L1542.0 113.0 L1541.9 114.5 L1541.6 116.1 L1541.0 117.7 L1540.1 119.2 L1538.9 120.8 L1537.6 122.3 L1535.9 123.8 L1534.2 125.4 L1532.2 127.0 L1530.1 128.5 L1528.0 130.1 L1525.8 131.6 L1523.6 133.2 L1521.3 134.7 L1519.1 136.2 L1517.0 137.8 L1515.0 139.3 L1513.0 140.9 L1511.1 142.4 L1509.4 144.0 L1507.8 145.6 L1506.4 147.1 L1505.0 148.7 L1503.8 150.2 L1502.7 151.8 L1501.8 153.3 L1500.9 154.8 L1500.2 156.4 L1499.6 157.9 L1499.0 159.5 L1498.6 161.1 L1498.2 162.6 L1497.8 164.2 L1497.5 165.7 L1497.3 167.2 L1497.1 168.8 L1497.0 170.3 L1496.9 171.9 L1496.8 173.4 L1496.7 175.0" stroke="#e0141e" stroke-width="2" fill="none"/>
<line x1="1414.4" y1="113.4" x2="1572.7" y2="113.4" stroke="#b3142a" stroke-width="2"/>
<rect x="1451" y="111.5" width="4" height="3" fill="#fff" opacity="0.35"/>
<line x1="1250.5" y1="267.6" x2="1250.5" y2="297.9" stroke="#000" stroke-width="2.2"/>
<line x1="1250.5" y1="340.1" x2="1250.5" y2="361.0" stroke="#000" stroke-width="2.2"/>
<line x1="1233.6" y1="267.6" x2="1267.4" y2="267.6" stroke="#000" stroke-width="2.2"/>
<line x1="1233.6" y1="361.0" x2="1267.4" y2="361.0" stroke="#000" stroke-width="2.2"/>
<rect x="1218.4" y="297.9" width="62.4" height="42.2" fill="#7f7f7f" stroke="#4c4c4c" stroke-width="1.4"/>
<line x1="1219.4" y1="314.8" x2="1279.8" y2="314.8" stroke="#fff" stroke-width="2.6" opacity="0.95"/>
<path d="M1330.0 320.2h6.0M1333.0 317.2v6.0M1316.5 314.8h6.0M1319.5 311.8v6.0M1318.3 315.2h6.0M1321.3 312.2v6.0M1295.2 335.1h6.0M1298.2 332.1v6.0M1317.0 329.2h6.0M1320.0 326.2v6.0M1303.1 364.1h6.0M1306.1 361.1v6.0M1293.0 305.6h6.0M1296.0 302.6v6.0M1294.7 306.9h6.0M1297.7 303.9v6.0M1293.0 287.2h6.0M1296.0 284.2v6.0M1324.3 307.8h6.0M1327.3 304.8v6.0M1311.1 297.5h6.0M1314.1 294.5v6.0M1312.9 290.9h6.0M1315.9 287.9v6.0M1312.1 293.4h6.0M1315.1 290.4v6.0M1303.7 309.5h6.0M1306.7 306.5v6.0M1301.2 341.7h6.0M1304.2 338.7v6.0M1304.3 334.0h6.0M1307.3 331.0v6.0M1301.1 317.4h6.0M1304.1 314.4v6.0M1311.8 316.2h6.0M1314.8 313.2v6.0M1316.7 308.9h6.0M1319.7 305.9v6.0M1303.2 322.9h6.0M1306.2 319.9v6.0M1318.5 296.6h6.0M1321.5 293.6v6.0M1295.9 331.2h6.0M1298.9 328.2v6.0M1295.7 344.9h6.0M1298.7 341.9v6.0M1307.9 330.0h6.0M1310.9 327.0v6.0M1295.9 338.1h6.0M1298.9 335.1v6.0M1298.3 337.0h6.0M1301.3 334.0v6.0M1301.3 363.0h6.0M1304.3 360.0v6.0M1294.8 354.0h6.0M1297.8 351.0v6.0M1300.1 350.9h6.0M1303.1 347.9v6.0M1294.8 364.9h6.0M1297.8 361.9v6.0M1299.4 342.4h6.0M1302.4 339.4v6.0M1293.5 269.6h6.0M1296.5 266.6v6.0M1299.7 335.0h6.0M1302.7 332.0v6.0M1319.1 297.2h6.0M1322.1 294.2v6.0M1327.2 321.8h6.0M1330.2 318.8v6.0M1302.5 278.0h6.0M1305.5 275.0v6.0M1299.2 337.4h6.0M1302.2 334.4v6.0M1316.0 338.9h6.0M1319.0 335.9v6.0M1302.2 360.8h6.0M1305.2 357.8v6.0M1293.9 306.2h6.0M1296.9 303.2v6.0M1302.0 322.6h6.0M1305.0 319.6v6.0M1316.8 314.8h6.0M1319.8 311.8v6.0M1300.4 280.2h6.0M1303.4 277.2v6.0M1300.7 285.8h6.0M1303.7 282.8v6.0M1299.3 365.0h6.0M1302.3 362.0v6.0M1294.7 357.4h6.0M1297.7 354.4v6.0M1301.1 290.0h6.0M1304.1 287.0v6.0M1296.6 280.3h6.0M1299.6 277.3v6.0M1320.2 333.5h6.0M1323.2 330.5v6.0M1311.9 334.9h6.0M1314.9 331.9v6.0M1293.7 304.6h6.0M1296.7 301.6v6.0M1300.2 356.7h6.0M1303.2 353.7v6.0M1293.3 309.7h6.0M1296.3 306.7v6.0M1296.0 275.3h6.0M1299.0 272.3v6.0M1295.5 321.6h6.0M1298.5 318.6v6.0M1322.1 312.4h6.0M1325.1 309.4v6.0M1303.9 332.3h6.0M1306.9 329.3v6.0M1297.1 359.4h6.0M1300.1 356.4v6.0M1305.8 286.4h6.0M1308.8 283.4v6.0M1309.8 299.0h6.0M1312.8 296.0v6.0M1294.9 299.0h6.0M1297.9 296.0v6.0M1322.2 314.7h6.0M1325.2 311.7v6.0M1307.3 338.4h6.0M1310.3 335.4v6.0M1293.6 349.2h6.0M1296.6 346.2v6.0M1298.0 351.3h6.0M1301.0 348.3v6.0M1307.3 334.6h6.0M1310.3 331.6v6.0M1328.7 323.4h6.0M1331.7 320.4v6.0M1295.8 263.2h6.0M1298.8 260.2v6.0M1328.9 321.5h6.0M1331.9 318.5v6.0M1306.9 332.0h6.0M1309.9 329.0v6.0M1298.4 299.1h6.0M1301.4 296.1v6.0M1308.1 345.8h6.0M1311.1 342.8v6.0M1297.1 350.8h6.0M1300.1 347.8v6.0M1312.2 311.2h6.0M1315.2 308.2v6.0M1322.0 329.7h6.0M1325.0 326.7v6.0M1315.3 350.1h6.0M1318.3 347.1v6.0M1307.5 343.0h6.0M1310.5 340.0v6.0M1310.6 344.0h6.0M1313.6 341.0v6.0M1306.4 345.2h6.0M1309.4 342.2v6.0M1313.8 345.9h6.0M1316.8 342.9v6.0M1308.2 349.1h6.0M1311.2 346.1v6.0M1320.2 345.6h6.0M1323.2 342.6v6.0M1303.8 341.8h6.0M1306.8 338.8v6.0M1325.2 292.0h6.0M1328.2 289.0v6.0M1320.9 310.5h6.0M1323.9 307.5v6.0M1310.5 318.2h6.0M1313.5 315.2v6.0M1303.0 295.3h6.0M1306.0 292.3v6.0M1314.3 291.4h6.0M1317.3 288.4v6.0M1324.1 298.8h6.0M1327.1 295.8v6.0M1306.2 292.1h6.0M1309.2 289.1v6.0M1318.9 306.1h6.0M1321.9 303.1v6.0M1318.9 313.4h6.0M1321.9 310.4v6.0M1323.5 324.0h6.0M1326.5 321.0v6.0M1320.3 297.5h6.0M1323.3 294.5v6.0M1314.9 296.8h6.0M1317.9 293.8v6.0M1302.8 307.0h6.0M1305.8 304.0v6.0M1321.1 296.8h6.0M1324.1 293.8v6.0M1309.6 302.6h6.0M1312.6 299.6v6.0M1320.6 308.7h6.0M1323.6 305.7v6.0M1318.5 317.0h6.0M1321.5 314.0v6.0M1312.7 318.2h6.0M1315.7 315.2v6.0M1310.9 273.8h6.0M1313.9 270.8v6.0M1311.4 283.3h6.0M1314.4 280.3v6.0M1297.7 279.3h6.0M1300.7 276.3v6.0M1306.1 286.1h6.0M1309.1 283.1v6.0M1301.9 281.0h6.0M1304.9 278.0v6.0M1310.4 284.5h6.0M1313.4 281.5v6.0" stroke="#000" stroke-width="1.2" fill="none"/>
<path d="M1294.2 238.0 L1294.2 239.7 L1294.3 241.3 L1294.3 242.9 L1294.4 244.6 L1294.5 246.2 L1294.6 247.9 L1294.7 249.6 L1294.9 251.2 L1295.1 252.8 L1295.3 254.5 L1295.6 256.1 L1295.9 257.8 L1296.3 259.4 L1296.7 261.1 L1297.2 262.8 L1297.7 264.4 L1298.3 266.1 L1299.0 267.7 L1299.8 269.4 L1300.7 271.0 L1301.6 272.6 L1302.7 274.3 L1303.9 275.9 L1305.1 277.6 L1306.5 279.2 L1307.9 280.9 L1309.5 282.6 L1311.1 284.2 L1312.8 285.9 L1314.6 287.5 L1316.4 289.1 L1318.3 290.8 L1320.2 292.4 L1322.1 294.1 L1324.0 295.8 L1325.9 297.4 L1327.7 299.1 L1329.5 300.7 L1331.2 302.4 L1332.7 304.0 L1334.1 305.6 L1335.4 307.3 L1336.5 308.9 L1337.4 310.6 L1338.1 312.2 L1338.6 313.9 L1338.9 315.6 L1339.0 317.2 L1338.8 318.9 L1338.5 320.5 L1337.9 322.1 L1337.1 323.8 L1336.1 325.4 L1335.0 327.1 L1333.6 328.8 L1332.2 330.4 L1330.6 332.1 L1328.9 333.7 L1327.1 335.4 L1325.2 337.0 L1323.3 338.6 L1321.4 340.3 L1319.5 341.9 L1317.6 343.6 L1315.7 345.2 L1313.9 346.9 L1312.2 348.6 L1310.5 350.2 L1308.9 351.9 L1307.4 353.5 L1306.0 355.1 L1304.6 356.8 L1303.4 358.4 L1302.3 360.1 L1301.3 361.8 L1300.4 363.4 L1299.5 365.1 L1298.8 366.7 L1298.1 368.4 L1297.5 370.0" stroke="#000" stroke-width="2" fill="none"/>
<line x1="1210.6" y1="316.9" x2="1370.7" y2="316.9" stroke="#000" stroke-width="2"/>
<rect x="1248.5" y="316.5" width="4" height="3" fill="#fff" opacity="0.85"/>
<line x1="1453.2" y1="248.9" x2="1453.2" y2="275.2" stroke="#b8182a" stroke-width="2.2"/>
<line x1="1453.2" y1="293.5" x2="1453.2" y2="318.8" stroke="#b8182a" stroke-width="2.2"/>
<line x1="1436.9" y1="248.9" x2="1469.5" y2="248.9" stroke="#b8182a" stroke-width="2.2"/>
<line x1="1436.9" y1="318.8" x2="1469.5" y2="318.8" stroke="#b8182a" stroke-width="2.2"/>
<rect x="1420.9" y="275.2" width="62.8" height="18.3" fill="#f7807f" stroke="#ea5a60" stroke-width="1.4"/>
<line x1="1421.9" y1="287.5" x2="1482.7" y2="287.5" stroke="#fff" stroke-width="2.6" opacity="0.6"/>
<path d="M1495.5 249.4h5.8M1498.4 246.5v5.8M1496.3 244.8h5.8M1499.2 241.9v5.8M1493.6 246.9h5.8M1496.5 244.0v5.8M1494.7 250.8h5.8M1497.6 247.9v5.8M1496.4 248.9h5.8M1499.3 246.0v5.8M1495.8 249.5h5.8M1498.7 246.6v5.8M1495.7 265.5h5.8M1498.6 262.6v5.8M1514.4 274.8h5.8M1517.3 271.9v5.8M1495.0 265.8h5.8M1497.9 262.9v5.8M1504.7 266.8h5.8M1507.6 263.9v5.8M1495.8 266.5h5.8M1498.7 263.6v5.8M1497.0 269.0h5.8M1499.9 266.1v5.8M1494.8 265.1h5.8M1497.7 262.2v5.8M1501.1 266.8h5.8M1504.0 263.9v5.8M1508.7 269.9h5.8M1511.6 267.0v5.8M1513.6 272.1h5.8M1516.5 269.2v5.8M1519.2 285.7h5.8M1522.1 282.8v5.8M1510.1 280.8h5.8M1513.0 277.9v5.8M1524.8 291.1h5.8M1527.7 288.2v5.8M1535.6 287.8h5.8M1538.5 284.9v5.8M1508.9 284.5h5.8M1511.8 281.6v5.8M1523.3 287.9h5.8M1526.2 285.0v5.8M1498.5 283.1h5.8M1501.4 280.2v5.8M1509.2 286.1h5.8M1512.1 283.2v5.8M1528.4 286.0h5.8M1531.3 283.1v5.8M1494.8 289.5h5.8M1497.7 286.6v5.8M1512.1 286.2h5.8M1515.0 283.3v5.8M1503.2 285.2h5.8M1506.1 282.3v5.8M1510.3 289.0h5.8M1513.2 286.1v5.8M1498.0 286.5h5.8M1500.9 283.6v5.8M1501.3 288.2h5.8M1504.2 285.3v5.8M1495.2 283.5h5.8M1498.1 280.6v5.8M1508.4 287.5h5.8M1511.3 284.6v5.8M1495.8 285.6h5.8M1498.7 282.7v5.8M1502.6 283.6h5.8M1505.5 280.7v5.8M1514.1 291.0h5.8M1517.0 288.1v5.8M1514.3 291.0h5.8M1517.2 288.1v5.8M1500.8 290.7h5.8M1503.7 287.8v5.8M1503.9 300.2h5.8M1506.8 297.3v5.8M1521.6 291.8h5.8M1524.5 288.9v5.8M1518.5 293.2h5.8M1521.4 290.3v5.8M1491.1 303.5h5.8M1494.0 300.6v5.8M1529.0 292.2h5.8M1531.9 289.3v5.8M1493.0 304.2h5.8M1495.9 301.3v5.8M1522.1 292.5h5.8M1525.0 289.6v5.8M1510.9 297.8h5.8M1513.8 294.9v5.8M1504.3 302.1h5.8M1507.2 299.2v5.8M1497.6 303.1h5.8M1500.5 300.2v5.8M1497.5 303.0h5.8M1500.4 300.1v5.8M1500.8 300.8h5.8M1503.7 297.9v5.8M1503.5 296.4h5.8M1506.4 293.5v5.8M1497.6 296.8h5.8M1500.5 293.9v5.8M1503.2 300.7h5.8M1506.1 297.8v5.8M1495.4 302.5h5.8M1498.3 299.6v5.8M1499.5 296.7h5.8M1502.4 293.8v5.8M1499.7 303.3h5.8M1502.6 300.4v5.8M1497.0 316.5h5.8M1499.9 313.6v5.8M1499.1 321.9h5.8M1502.0 319.0v5.8M1498.2 313.2h5.8M1501.1 310.3v5.8M1497.1 320.9h5.8M1500.0 318.0v5.8M1498.3 315.8h5.8M1501.2 312.9v5.8M1495.7 312.4h5.8M1498.6 309.5v5.8M1498.0 315.5h5.8M1500.9 312.6v5.8M1493.7 317.9h5.8M1496.6 315.0v5.8M1499.0 319.3h5.8M1501.9 316.4v5.8M1510.7 304.6h5.8M1513.6 301.7v5.8M1503.2 266.9h5.8M1506.1 264.0v5.8M1504.6 308.7h5.8M1507.5 305.8v5.8M1514.6 272.7h5.8M1517.5 269.8v5.8M1523.6 288.7h5.8M1526.5 285.8v5.8M1509.0 274.3h5.8M1511.9 271.4v5.8M1500.2 296.3h5.8M1503.1 293.4v5.8M1521.3 277.6h5.8M1524.2 274.7v5.8M1515.2 281.9h5.8M1518.1 279.0v5.8M1514.3 271.0h5.8M1517.2 268.1v5.8M1506.2 273.9h5.8M1509.1 271.0v5.8M1495.9 288.4h5.8M1498.8 285.5v5.8M1502.7 276.0h5.8M1505.6 273.1v5.8M1524.2 273.0h5.8M1527.1 270.1v5.8M1514.2 281.4h5.8M1517.1 278.5v5.8M1523.5 274.5h5.8M1526.4 271.6v5.8M1530.6 285.0h5.8M1533.5 282.1v5.8M1526.2 288.3h5.8M1529.1 285.4v5.8M1517.5 295.7h5.8M1520.4 292.8v5.8M1503.4 308.0h5.8M1506.3 305.1v5.8M1502.7 267.1h5.8M1505.6 264.2v5.8M1507.6 280.0h5.8M1510.5 277.1v5.8M1512.7 273.3h5.8M1515.6 270.4v5.8M1509.6 264.3h5.8M1512.5 261.4v5.8M1503.3 308.8h5.8M1506.2 305.9v5.8M1511.3 305.7h5.8M1514.2 302.8v5.8M1510.8 268.3h5.8M1513.7 265.4v5.8M1502.8 309.5h5.8M1505.7 306.6v5.8M1499.6 262.9h5.8M1502.5 260.0v5.8M1510.9 281.0h5.8M1513.8 278.1v5.8" stroke="#e0141e" stroke-width="1.25" fill="none"/>
<path d="M1498.2 239.0 L1498.4 240.3 L1498.7 241.6 L1499.1 242.8 L1499.5 244.1 L1500.0 245.4 L1500.5 246.7 L1501.2 247.9 L1501.9 249.2 L1502.7 250.5 L1503.6 251.8 L1504.7 253.0 L1505.8 254.3 L1507.1 255.6 L1508.4 256.9 L1509.9 258.1 L1511.5 259.4 L1513.2 260.7 L1514.9 261.9 L1516.8 263.2 L1518.7 264.5 L1520.7 265.8 L1522.8 267.1 L1524.8 268.3 L1526.9 269.6 L1528.9 270.9 L1530.8 272.1 L1532.7 273.4 L1534.5 274.7 L1536.1 276.0 L1537.6 277.2 L1538.9 278.5 L1539.9 279.8 L1540.8 281.1 L1541.5 282.4 L1541.9 283.6 L1542.0 284.9 L1541.9 286.2 L1541.5 287.4 L1540.9 288.7 L1540.1 290.0 L1539.0 291.3 L1537.8 292.6 L1536.3 293.8 L1534.7 295.1 L1533.0 296.4 L1531.1 297.6 L1529.2 298.9 L1527.2 300.2 L1525.1 301.5 L1523.1 302.8 L1521.1 304.0 L1519.1 305.3 L1517.1 306.6 L1515.2 307.9 L1513.4 309.1 L1511.7 310.4 L1510.1 311.7 L1508.6 312.9 L1507.3 314.2 L1506.0 315.5 L1504.8 316.8 L1503.8 318.1 L1502.9 319.3 L1502.0 320.6 L1501.3 321.9 L1500.6 323.1 L1500.1 324.4 L1499.6 325.7 L1499.1 327.0 L1498.8 328.2 L1498.5 329.5 L1498.2 330.8 L1498.0 332.1 L1497.8 333.4 L1497.6 334.6 L1497.5 335.9 L1497.4 337.2 L1497.3 338.4 L1497.3 339.7 L1497.2 341.0" stroke="#e0141e" stroke-width="2" fill="none"/>
<line x1="1414.4" y1="285.0" x2="1572.7" y2="285.0" stroke="#b3142a" stroke-width="2"/>
<rect x="1451" y="284.0" width="4" height="3" fill="#fff" opacity="0.35"/>
<rect x="127.3" y="23.6" width="416.9" height="179.9" fill="none" stroke="#000" stroke-width="2.2"/>
<line x1="121.8" y1="38.6" x2="127.3" y2="38.6" stroke="#000" stroke-width="1.8"/>
<text transform="translate(117.3,45.7) scale(1,1.055)" text-anchor="end" class="tl">1.20</text>
<line x1="121.8" y1="83.6" x2="127.3" y2="83.6" stroke="#000" stroke-width="1.8"/>
<text transform="translate(117.3,90.7) scale(1,1.055)" text-anchor="end" class="tl">1.14</text>
<line x1="121.8" y1="128.6" x2="127.3" y2="128.6" stroke="#000" stroke-width="1.8"/>
<text transform="translate(117.3,135.7) scale(1,1.055)" text-anchor="end" class="tl">1.08</text>
<line x1="121.8" y1="173.6" x2="127.3" y2="173.6" stroke="#000" stroke-width="1.8"/>
<text transform="translate(117.3,180.7) scale(1,1.055)" text-anchor="end" class="tl">1.02</text>
<line x1="124.8" y1="196.1" x2="127.3" y2="196.1" stroke="#000" stroke-width="1.6"/>
<line x1="124.8" y1="151.1" x2="127.3" y2="151.1" stroke="#000" stroke-width="1.6"/>
<line x1="124.8" y1="106.1" x2="127.3" y2="106.1" stroke="#000" stroke-width="1.6"/>
<line x1="124.8" y1="61.1" x2="127.3" y2="61.1" stroke="#000" stroke-width="1.6"/>
<rect x="127.3" y="229.6" width="416.9" height="179.9" fill="none" stroke="#000" stroke-width="2.2"/>
<line x1="121.8" y1="229.6" x2="127.3" y2="229.6" stroke="#000" stroke-width="1.8"/>
<text transform="translate(117.3,236.7) scale(1,1.055)" text-anchor="end" class="tl">26</text>
<line x1="121.8" y1="281.0" x2="127.3" y2="281.0" stroke="#000" stroke-width="1.8"/>
<text transform="translate(117.3,288.1) scale(1,1.055)" text-anchor="end" class="tl">24</text>
<line x1="121.8" y1="332.4" x2="127.3" y2="332.4" stroke="#000" stroke-width="1.8"/>
<text transform="translate(117.3,339.5) scale(1,1.055)" text-anchor="end" class="tl">22</text>
<line x1="121.8" y1="383.8" x2="127.3" y2="383.8" stroke="#000" stroke-width="1.8"/>
<text transform="translate(117.3,390.9) scale(1,1.055)" text-anchor="end" class="tl">20</text>
<line x1="124.8" y1="255.3" x2="127.3" y2="255.3" stroke="#000" stroke-width="1.6"/>
<line x1="124.8" y1="306.7" x2="127.3" y2="306.7" stroke="#000" stroke-width="1.6"/>
<line x1="124.8" y1="358.1" x2="127.3" y2="358.1" stroke="#000" stroke-width="1.6"/>
<line x1="232.1" y1="409.5" x2="232.1" y2="415.0" stroke="#000" stroke-width="1.8"/>
<line x1="439.6" y1="409.5" x2="439.6" y2="415.0" stroke="#000" stroke-width="1.8"/>
<rect x="665.5" y="23.5" width="419.8" height="181.0" fill="none" stroke="#000" stroke-width="2.2"/>
<line x1="660.0" y1="204.5" x2="665.5" y2="204.5" stroke="#000" stroke-width="1.8"/>
<text transform="translate(655.5,211.6) scale(1,1.055)" text-anchor="end" class="tl">0</text>
<line x1="660.0" y1="171.4" x2="665.5" y2="171.4" stroke="#000" stroke-width="1.8"/>
<text transform="translate(655.5,178.5) scale(1,1.055)" text-anchor="end" class="tl">50</text>
<line x1="660.0" y1="138.4" x2="665.5" y2="138.4" stroke="#000" stroke-width="1.8"/>
<text transform="translate(655.5,145.5) scale(1,1.055)" text-anchor="end" class="tl">100</text>
<line x1="660.0" y1="105.3" x2="665.5" y2="105.3" stroke="#000" stroke-width="1.8"/>
<text transform="translate(655.5,112.4) scale(1,1.055)" text-anchor="end" class="tl">150</text>
<line x1="660.0" y1="72.3" x2="665.5" y2="72.3" stroke="#000" stroke-width="1.8"/>
<text transform="translate(655.5,79.4) scale(1,1.055)" text-anchor="end" class="tl">200</text>
<line x1="660.0" y1="39.2" x2="665.5" y2="39.2" stroke="#000" stroke-width="1.8"/>
<text transform="translate(655.5,46.3) scale(1,1.055)" text-anchor="end" class="tl">250</text>
<line x1="663.0" y1="188.0" x2="665.5" y2="188.0" stroke="#000" stroke-width="1.6"/>
<line x1="663.0" y1="154.9" x2="665.5" y2="154.9" stroke="#000" stroke-width="1.6"/>
<line x1="663.0" y1="121.8" x2="665.5" y2="121.8" stroke="#000" stroke-width="1.6"/>
<line x1="663.0" y1="88.8" x2="665.5" y2="88.8" stroke="#000" stroke-width="1.6"/>
<line x1="663.0" y1="55.7" x2="665.5" y2="55.7" stroke="#000" stroke-width="1.6"/>
<rect x="665.5" y="230.5" width="419.8" height="181.0" fill="none" stroke="#000" stroke-width="2.2"/>
<line x1="660.0" y1="244.2" x2="665.5" y2="244.2" stroke="#000" stroke-width="1.8"/>
<text transform="translate(655.5,251.3) scale(1,1.055)" text-anchor="end" class="tl">100.0k</text>
<line x1="660.0" y1="270.0" x2="665.5" y2="270.0" stroke="#000" stroke-width="1.8"/>
<text transform="translate(655.5,277.1) scale(1,1.055)" text-anchor="end" class="tl">80.0k</text>
<line x1="660.0" y1="295.8" x2="665.5" y2="295.8" stroke="#000" stroke-width="1.8"/>
<text transform="translate(655.5,302.9) scale(1,1.055)" text-anchor="end" class="tl">60.0k</text>
<line x1="660.0" y1="321.5" x2="665.5" y2="321.5" stroke="#000" stroke-width="1.8"/>
<text transform="translate(655.5,328.6) scale(1,1.055)" text-anchor="end" class="tl">40.0k</text>
<line x1="660.0" y1="347.3" x2="665.5" y2="347.3" stroke="#000" stroke-width="1.8"/>
<text transform="translate(655.5,354.4) scale(1,1.055)" text-anchor="end" class="tl">20.0k</text>
<line x1="660.0" y1="373.1" x2="665.5" y2="373.1" stroke="#000" stroke-width="1.8"/>
<text transform="translate(655.5,380.2) scale(1,1.055)" text-anchor="end" class="tl">0.0</text>
<line x1="660.0" y1="398.9" x2="665.5" y2="398.9" stroke="#000" stroke-width="1.8"/>
<text transform="translate(655.5,406.0) scale(1,1.055)" text-anchor="end" class="tl">-20.0k</text>
<line x1="663.0" y1="257.1" x2="665.5" y2="257.1" stroke="#000" stroke-width="1.6"/>
<line x1="663.0" y1="282.9" x2="665.5" y2="282.9" stroke="#000" stroke-width="1.6"/>
<line x1="663.0" y1="308.7" x2="665.5" y2="308.7" stroke="#000" stroke-width="1.6"/>
<line x1="663.0" y1="334.4" x2="665.5" y2="334.4" stroke="#000" stroke-width="1.6"/>
<line x1="663.0" y1="360.2" x2="665.5" y2="360.2" stroke="#000" stroke-width="1.6"/>
<line x1="663.0" y1="386.0" x2="665.5" y2="386.0" stroke="#000" stroke-width="1.6"/>
<line x1="770.2" y1="411.5" x2="770.2" y2="417.0" stroke="#000" stroke-width="1.8"/>
<line x1="979.9" y1="411.5" x2="979.9" y2="417.0" stroke="#000" stroke-width="1.8"/>
<rect x="1190.0" y="28.6" width="405.5" height="174.8" fill="none" stroke="#000" stroke-width="2.2"/>
<line x1="1184.5" y1="28.7" x2="1190.0" y2="28.7" stroke="#000" stroke-width="1.8"/>
<text transform="translate(1180.5,35.2) scale(1,1.055)" text-anchor="end" class="tl">80</text>
<line x1="1184.5" y1="63.6" x2="1190.0" y2="63.6" stroke="#000" stroke-width="1.8"/>
<text transform="translate(1180.5,70.1) scale(1,1.055)" text-anchor="end" class="tl">75</text>
<line x1="1184.5" y1="98.5" x2="1190.0" y2="98.5" stroke="#000" stroke-width="1.8"/>
<text transform="translate(1180.5,105.0) scale(1,1.055)" text-anchor="end" class="tl">70</text>
<line x1="1184.5" y1="133.4" x2="1190.0" y2="133.4" stroke="#000" stroke-width="1.8"/>
<text transform="translate(1180.5,139.9) scale(1,1.055)" text-anchor="end" class="tl">65</text>
<line x1="1184.5" y1="168.3" x2="1190.0" y2="168.3" stroke="#000" stroke-width="1.8"/>
<text transform="translate(1180.5,174.8) scale(1,1.055)" text-anchor="end" class="tl">60</text>
<line x1="1184.5" y1="203.2" x2="1190.0" y2="203.2" stroke="#000" stroke-width="1.8"/>
<text transform="translate(1180.5,209.7) scale(1,1.055)" text-anchor="end" class="tl">55</text>
<line x1="1187.5" y1="46.1" x2="1190.0" y2="46.1" stroke="#000" stroke-width="1.6"/>
<line x1="1187.5" y1="81.0" x2="1190.0" y2="81.0" stroke="#000" stroke-width="1.6"/>
<line x1="1187.5" y1="116.0" x2="1190.0" y2="116.0" stroke="#000" stroke-width="1.6"/>
<line x1="1187.5" y1="150.8" x2="1190.0" y2="150.8" stroke="#000" stroke-width="1.6"/>
<line x1="1187.5" y1="185.8" x2="1190.0" y2="185.8" stroke="#000" stroke-width="1.6"/>
<rect x="1190.0" y="228.4" width="405.5" height="175.3" fill="none" stroke="#000" stroke-width="2.2"/>
<line x1="1184.5" y1="261.8" x2="1190.0" y2="261.8" stroke="#000" stroke-width="1.8"/>
<text transform="translate(1180.5,268.3) scale(1,1.055)" text-anchor="end" class="tl">20</text>
<line x1="1184.5" y1="305.4" x2="1190.0" y2="305.4" stroke="#000" stroke-width="1.8"/>
<text transform="translate(1180.5,311.9) scale(1,1.055)" text-anchor="end" class="tl">18</text>
<line x1="1184.5" y1="349.0" x2="1190.0" y2="349.0" stroke="#000" stroke-width="1.8"/>
<text transform="translate(1180.5,355.5) scale(1,1.055)" text-anchor="end" class="tl">16</text>
<line x1="1184.5" y1="392.6" x2="1190.0" y2="392.6" stroke="#000" stroke-width="1.8"/>
<text transform="translate(1180.5,399.1) scale(1,1.055)" text-anchor="end" class="tl">14</text>
<line x1="1187.5" y1="240.0" x2="1190.0" y2="240.0" stroke="#000" stroke-width="1.6"/>
<line x1="1187.5" y1="283.6" x2="1190.0" y2="283.6" stroke="#000" stroke-width="1.6"/>
<line x1="1187.5" y1="327.2" x2="1190.0" y2="327.2" stroke="#000" stroke-width="1.6"/>
<line x1="1187.5" y1="370.8" x2="1190.0" y2="370.8" stroke="#000" stroke-width="1.6"/>
<line x1="1291.5" y1="403.7" x2="1291.5" y2="409.2" stroke="#000" stroke-width="1.8"/>
<line x1="1493.6" y1="403.7" x2="1493.6" y2="409.2" stroke="#000" stroke-width="1.8"/>
<text x="229.8" y="193.6" text-anchor="middle" class="st">1.10±0.02</text>
<text x="446.2" y="147.8" text-anchor="middle" class="st">1.14±0.10</text>
<text x="231.2" y="384.4" text-anchor="middle" class="st">23.07±0.63</text>
<text x="450.4" y="323.3" text-anchor="middle" class="st">24.45±0.32</text>
<text x="759.2" y="195.6" text-anchor="middle" class="st">106.05±33.55</text>
<text x="969.6" y="196.3" text-anchor="middle" class="st">146.60±42.71</text>
<text x="767.9" y="394.3" text-anchor="middle" class="st">25701.57±10873.08</text>
<text x="975.3" y="396.5" text-anchor="middle" class="st">40947.75±21537.45</text>
<text x="1271.4" y="194.6" text-anchor="middle" class="st">69.10±4.56</text>
<text x="1476.5" y="194.2" text-anchor="middle" class="st" style="font-size:19.3px">67.80±2.75</text>
<text x="1274.1" y="392.0" text-anchor="middle" class="st" style="font-size:19px">17.46±1.08</text>
<text x="1482.4" y="367.2" text-anchor="middle" class="st" style="font-size:19px">18.93±0.78</text>
<text x="231.1" y="438.5" text-anchor="middle" class="xl">Spin-coated-SnO<tspan font-size="17" dy="6">2</tspan></text>
<text x="770.6" y="437.6" text-anchor="middle" class="xl">Spin-coated-SnO<tspan font-size="17" dy="6">2</tspan></text>
<text x="1290.9" y="430.4" text-anchor="middle" class="xl" style="font-size:24.2px;letter-spacing:0px">Spin-coated-SnO<tspan font-size="17" dy="6">2</tspan></text>
<text x="438.7" y="438.75" text-anchor="middle" class="xl">CBD-SnO<tspan font-size="17" dy="6">2</tspan><tspan dy="-6">-N</tspan></text>
<text x="979.3" y="437.6" text-anchor="middle" class="xl">CBD-SnO<tspan font-size="17" dy="6">2</tspan><tspan dy="-6">-N</tspan></text>
<text x="1493.3" y="430.4" text-anchor="middle" class="xl" style="font-size:24.2px;letter-spacing:0.3px">CBD-SnO<tspan font-size="17" dy="6">2</tspan><tspan dy="-6">-N</tspan></text>
<text transform="translate(62,112.6) rotate(-90)" text-anchor="middle" class="yt"><tspan font-style="italic">V</tspan><tspan font-size="17" font-style="italic" dy="6.5">OC</tspan><tspan dy="-6.5"> (V)</tspan></text>
<text transform="translate(75.5,318.6) rotate(-90)" text-anchor="middle" class="yt" style="font-size:27.6px"><tspan font-style="italic">J</tspan><tspan font-size="17.5" font-style="italic" dy="6.5">sc</tspan><tspan dy="-6.5"> (mA cm</tspan><tspan font-size="17.5" dy="-10.5">-2</tspan><tspan dy="10.5"> )</tspan></text>
<text transform="translate(601.3,113.5) rotate(-90)" text-anchor="middle" class="yt">R<tspan font-size="18" dy="7.5">s</tspan><tspan dy="-7.5" dx="2.5"> (Ω)</tspan></text>
<text transform="translate(584.2,319.2) rotate(-90)" text-anchor="middle" class="yt">R<tspan font-size="19.5" dy="7">sh</tspan><tspan dy="-7" dx="1.5"> (Ω)</tspan></text>
<text transform="translate(1147.5,115.5) rotate(-90)" text-anchor="middle" class="yt">FF (%)</text>
<text transform="translate(1147.5,314.5) rotate(-90)" text-anchor="middle" class="yt">PCE (%)</text>
<text x="10.5" y="39.7" class="pl">(a)</text>
<text x="557.8" y="39.5" class="pl">(b)</text>
<text x="1094.2" y="42" class="pl">(c)</text>
</svg></body></html>
